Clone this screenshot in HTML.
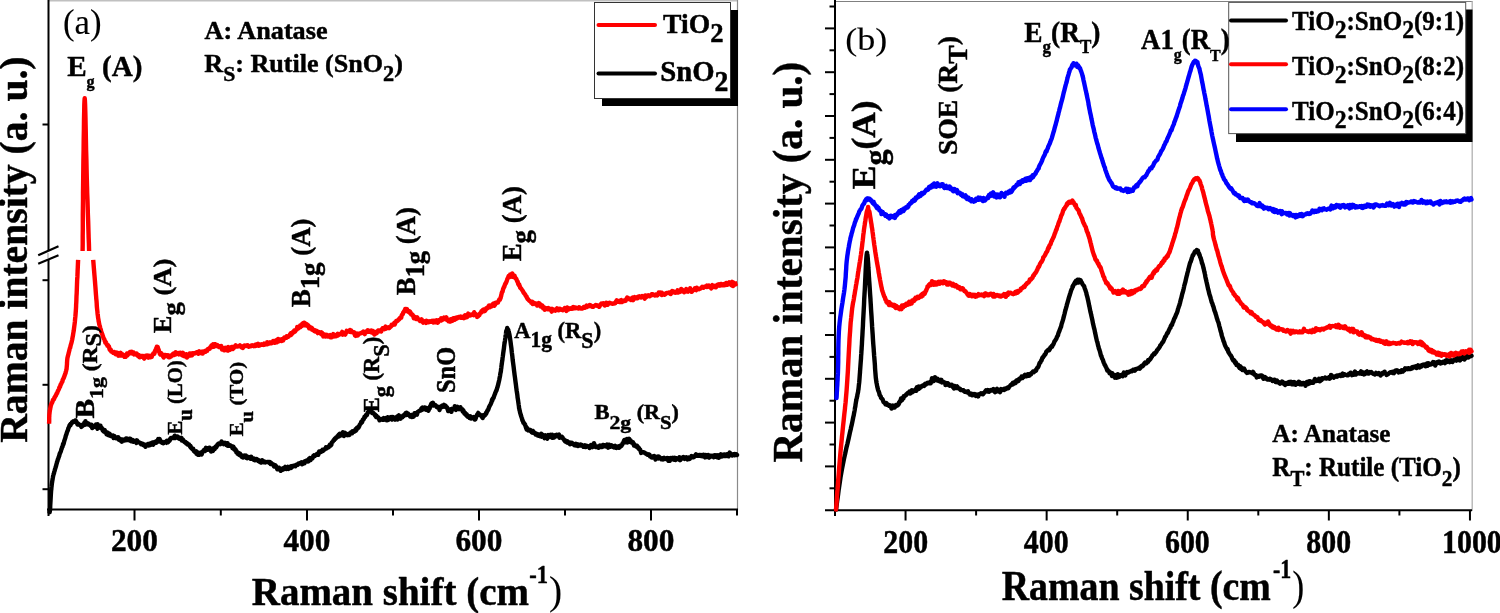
<!DOCTYPE html>
<html><head><meta charset="utf-8"><style>
html,body{margin:0;padding:0;background:#fff;width:1500px;height:613px;overflow:hidden}
svg{display:block;will-change:transform}
text{font-family:"Liberation Serif",serif;fill:#000;stroke:#000;stroke-width:0.45px;stroke-linejoin:round}
text[font-weight="normal"]{stroke-width:0.1px}
</style></head><body>
<svg width="1500" height="613" viewBox="0 0 1500 613">
<rect width="1500" height="613" fill="#fff"/>
<line x1="48" y1="0.75" x2="738" y2="0.75" stroke="#c0c0c0" stroke-width="1.5" stroke-linecap="butt"/>
<line x1="737.5" y1="0" x2="737.5" y2="510" stroke="#8a8a8a" stroke-width="1.2" stroke-linecap="butt"/>
<line x1="48.5" y1="0" x2="48.5" y2="516" stroke="#000" stroke-width="2" stroke-linecap="butt"/>
<line x1="47" y1="509.6" x2="738" y2="509.6" stroke="#000" stroke-width="2" stroke-linecap="butt"/>
<line x1="42.5" y1="124.5" x2="48" y2="124.5" stroke="#000" stroke-width="2" stroke-linecap="butt"/>
<line x1="42.5" y1="280.2" x2="48" y2="280.2" stroke="#000" stroke-width="2" stroke-linecap="butt"/>
<line x1="42.5" y1="384.8" x2="48" y2="384.8" stroke="#000" stroke-width="2" stroke-linecap="butt"/>
<line x1="42.5" y1="489.2" x2="48" y2="489.2" stroke="#000" stroke-width="2" stroke-linecap="butt"/>
<polygon points="38,255.3 58.5,246.3 58.5,255.3 38,263.7" fill="#fff"/>
<line x1="48" y1="253" x2="48" y2="258" stroke="#999" stroke-width="1" stroke-linecap="butt"/>
<line x1="38.2" y1="255.3" x2="58.5" y2="246.3" stroke="#000" stroke-width="2.2" stroke-linecap="butt"/>
<line x1="38.2" y1="263.7" x2="58.5" y2="255.3" stroke="#000" stroke-width="2.2" stroke-linecap="butt"/>
<line x1="134.5" y1="509.6" x2="134.5" y2="520.5" stroke="#000" stroke-width="2" stroke-linecap="butt"/>
<line x1="220.8" y1="509.6" x2="220.8" y2="515.5" stroke="#000" stroke-width="2" stroke-linecap="butt"/>
<line x1="307" y1="509.6" x2="307" y2="520.5" stroke="#000" stroke-width="2" stroke-linecap="butt"/>
<line x1="393" y1="509.6" x2="393" y2="515.5" stroke="#000" stroke-width="2" stroke-linecap="butt"/>
<line x1="479" y1="509.6" x2="479" y2="520.5" stroke="#000" stroke-width="2" stroke-linecap="butt"/>
<line x1="565" y1="509.6" x2="565" y2="515.5" stroke="#000" stroke-width="2" stroke-linecap="butt"/>
<line x1="651" y1="509.6" x2="651" y2="520.5" stroke="#000" stroke-width="2" stroke-linecap="butt"/>
<line x1="737" y1="509.6" x2="737" y2="515.5" stroke="#000" stroke-width="2" stroke-linecap="butt"/>
<line x1="835" y1="1.5" x2="1472.5" y2="1.5" stroke="#808080" stroke-width="1.2" stroke-linecap="butt"/>
<line x1="1472.2" y1="1" x2="1472.2" y2="511" stroke="#b0b0b0" stroke-width="1.3" stroke-linecap="butt"/>
<line x1="835" y1="0" x2="835" y2="516" stroke="#000" stroke-width="2" stroke-linecap="butt"/>
<line x1="825" y1="510.2" x2="1472" y2="510.2" stroke="#000" stroke-width="2" stroke-linecap="butt"/>
<line x1="829.5" y1="488.3" x2="835" y2="488.3" stroke="#000" stroke-width="2" stroke-linecap="butt"/>
<line x1="825" y1="466.40000000000003" x2="835" y2="466.40000000000003" stroke="#000" stroke-width="2" stroke-linecap="butt"/>
<line x1="829.5" y1="444.50000000000006" x2="835" y2="444.50000000000006" stroke="#000" stroke-width="2" stroke-linecap="butt"/>
<line x1="825" y1="422.6000000000001" x2="835" y2="422.6000000000001" stroke="#000" stroke-width="2" stroke-linecap="butt"/>
<line x1="829.5" y1="400.7000000000001" x2="835" y2="400.7000000000001" stroke="#000" stroke-width="2" stroke-linecap="butt"/>
<line x1="825" y1="378.8000000000001" x2="835" y2="378.8000000000001" stroke="#000" stroke-width="2" stroke-linecap="butt"/>
<line x1="829.5" y1="356.90000000000015" x2="835" y2="356.90000000000015" stroke="#000" stroke-width="2" stroke-linecap="butt"/>
<line x1="825" y1="335.00000000000017" x2="835" y2="335.00000000000017" stroke="#000" stroke-width="2" stroke-linecap="butt"/>
<line x1="829.5" y1="313.1000000000002" x2="835" y2="313.1000000000002" stroke="#000" stroke-width="2" stroke-linecap="butt"/>
<line x1="825" y1="291.2000000000002" x2="835" y2="291.2000000000002" stroke="#000" stroke-width="2" stroke-linecap="butt"/>
<line x1="829.5" y1="269.30000000000024" x2="835" y2="269.30000000000024" stroke="#000" stroke-width="2" stroke-linecap="butt"/>
<line x1="825" y1="247.40000000000023" x2="835" y2="247.40000000000023" stroke="#000" stroke-width="2" stroke-linecap="butt"/>
<line x1="829.5" y1="225.50000000000023" x2="835" y2="225.50000000000023" stroke="#000" stroke-width="2" stroke-linecap="butt"/>
<line x1="825" y1="203.60000000000022" x2="835" y2="203.60000000000022" stroke="#000" stroke-width="2" stroke-linecap="butt"/>
<line x1="829.5" y1="181.70000000000022" x2="835" y2="181.70000000000022" stroke="#000" stroke-width="2" stroke-linecap="butt"/>
<line x1="825" y1="159.8000000000002" x2="835" y2="159.8000000000002" stroke="#000" stroke-width="2" stroke-linecap="butt"/>
<line x1="829.5" y1="137.9000000000002" x2="835" y2="137.9000000000002" stroke="#000" stroke-width="2" stroke-linecap="butt"/>
<line x1="825" y1="116.0000000000002" x2="835" y2="116.0000000000002" stroke="#000" stroke-width="2" stroke-linecap="butt"/>
<line x1="829.5" y1="94.1000000000002" x2="835" y2="94.1000000000002" stroke="#000" stroke-width="2" stroke-linecap="butt"/>
<line x1="825" y1="72.20000000000019" x2="835" y2="72.20000000000019" stroke="#000" stroke-width="2" stroke-linecap="butt"/>
<line x1="829.5" y1="50.30000000000019" x2="835" y2="50.30000000000019" stroke="#000" stroke-width="2" stroke-linecap="butt"/>
<line x1="825" y1="28.40000000000019" x2="835" y2="28.40000000000019" stroke="#000" stroke-width="2" stroke-linecap="butt"/>
<line x1="829.5" y1="6.500000000000192" x2="835" y2="6.500000000000192" stroke="#000" stroke-width="2" stroke-linecap="butt"/>
<line x1="905.55" y1="510.2" x2="905.55" y2="520.5" stroke="#000" stroke-width="2" stroke-linecap="butt"/>
<line x1="976.1" y1="510.2" x2="976.1" y2="515.5" stroke="#000" stroke-width="2" stroke-linecap="butt"/>
<line x1="1046.65" y1="510.2" x2="1046.65" y2="520.5" stroke="#000" stroke-width="2" stroke-linecap="butt"/>
<line x1="1117.2" y1="510.2" x2="1117.2" y2="515.5" stroke="#000" stroke-width="2" stroke-linecap="butt"/>
<line x1="1187.75" y1="510.2" x2="1187.75" y2="520.5" stroke="#000" stroke-width="2" stroke-linecap="butt"/>
<line x1="1258.3" y1="510.2" x2="1258.3" y2="515.5" stroke="#000" stroke-width="2" stroke-linecap="butt"/>
<line x1="1328.85" y1="510.2" x2="1328.85" y2="520.5" stroke="#000" stroke-width="2" stroke-linecap="butt"/>
<line x1="1399.4" y1="510.2" x2="1399.4" y2="515.5" stroke="#000" stroke-width="2" stroke-linecap="butt"/>
<line x1="1469.9499999999998" y1="510.2" x2="1469.9499999999998" y2="520.5" stroke="#000" stroke-width="2" stroke-linecap="butt"/>
<polyline points="49.1,423.7 49.1,422.7 49.2,421.6 49.2,420.5 49.2,419.5 49.2,418.5 49.2,417.4 49.3,416.4 49.3,415.4 49.4,414.3 49.5,413.4 49.6,412.5 49.7,411.5 49.9,410.5 50.0,409.7 50.2,408.9 50.4,407.6 50.6,406.9 50.6,406.5 50.8,405.8 51.1,404.7 51.4,404.2 51.7,403.0 52.1,402.7 52.1,402.6 52.5,401.6 53.0,399.7 53.5,399.7 53.6,399.6 54.0,399.1 54.5,397.4 55.0,397.0 55.1,396.5 55.5,395.8 56.0,395.5 56.5,393.7 56.6,393.8 57.1,393.2 57.7,391.4 58.1,390.6 58.3,390.4 58.9,389.1 59.4,387.3 59.6,387.5 60.0,387.0 60.6,384.6 61.1,384.3 61.2,383.9 61.7,382.4 62.2,382.0 62.6,380.7 62.7,379.7 63.3,378.9 63.8,377.8 64.1,376.7 64.3,376.6 64.7,375.1 65.2,374.0 65.6,373.0 65.6,372.4 66.0,371.3 66.3,369.9 66.6,368.8 66.7,367.4 66.8,366.3 66.9,365.1 67.0,364.0 67.0,362.7 67.1,361.7 67.1,361.3 67.2,360.1 67.4,358.3 67.7,356.9 68.1,355.3 68.5,353.9 68.6,353.3 69.0,351.7 69.5,349.7 70.0,347.8 70.1,348.0 70.6,345.7 71.2,343.7 71.6,342.1 71.7,341.7 72.2,339.5 72.6,337.2 73.0,335.2 73.1,334.5 73.3,333.2 73.7,330.9 74.0,328.5 74.3,326.3 74.6,323.9 74.6,324.0 74.9,321.4 75.1,319.0 75.4,316.3 75.6,313.8 75.8,311.0 76.0,308.1 76.1,306.1 76.1,305.2 76.3,302.2 76.4,299.2 76.5,296.1 76.7,293.0 76.8,290.1 76.9,287.2 77.0,284.4 77.1,281.7 77.2,279.2 77.4,276.7 77.5,274.2 77.6,271.8 77.6,271.1 77.7,269.4 77.8,267.1 77.9,264.7 78.0,262.4 78.1,259.9" fill="none" stroke="#ff0000" stroke-width="4.4" stroke-linejoin="round" stroke-linecap="butt"/>
<polyline points="82.6,251.0 82.7,243.7 82.7,236.4 82.8,229.2 82.8,222.1 82.8,214.9 82.9,207.7 83.0,200.3 83.0,193.0 83.1,185.5 83.2,178.0 83.3,169.6 83.4,160.0 83.6,149.7 83.7,139.2 83.9,128.9 84.0,119.4 84.1,115.0 84.2,111.1 84.3,104.6 84.5,100.4 84.7,98.3 84.9,100.3 85.1,104.6 85.3,111.1 85.5,119.3 85.6,124.4 85.7,128.9 85.9,139.2 86.1,149.7 86.4,160.0 86.6,169.6 86.8,178.0 87.0,185.6 87.1,188.1 87.2,193.0 87.5,200.3 87.7,207.6 87.9,214.9 88.2,222.1 88.4,229.3 88.6,235.4 88.6,236.5 88.9,243.7 89.1,251.0" fill="none" stroke="#ff0000" stroke-width="4.4" stroke-linejoin="round" stroke-linecap="butt"/>
<polyline points="93.2,259.9 93.4,262.2 93.6,264.8 93.8,267.2 94.0,269.7 94.2,272.0 94.4,274.6 94.6,276.9 94.7,278.2 94.8,279.4 95.0,281.8 95.2,284.5 95.4,286.9 95.6,289.7 95.8,292.5 96.0,295.2 96.2,297.4 96.2,298.1 96.5,300.7 96.7,303.3 96.8,305.8 97.0,308.1 97.2,310.0 97.4,311.6 97.5,312.9 97.6,314.0 97.7,314.8 97.8,315.3 97.9,316.1 98.0,317.0 98.1,317.8 98.2,318.5 98.4,319.3 98.5,319.9 98.6,321.1 98.8,321.5 98.9,322.6 99.1,323.2 99.2,323.9 99.2,324.2 99.4,324.8 99.5,325.0 99.7,325.6 99.9,326.9 100.1,327.3 100.3,328.3 100.6,329.4 100.7,329.2 100.8,329.5 101.1,331.1 101.4,331.9 101.7,332.7 102.0,333.7 102.2,334.0 102.3,334.0 102.5,335.2 102.8,335.7 103.0,336.2 103.3,337.5 103.5,337.9 103.7,338.5 103.7,338.1 103.9,338.8 104.2,339.1 104.4,339.6 104.6,340.5 104.8,340.6 105.0,341.4 105.2,341.8 105.2,342.6 105.4,341.4 105.5,342.7 105.7,342.5 105.9,342.8 106.0,342.3 106.2,343.1 106.5,344.1 106.7,344.0 106.7,344.1 107.0,344.4 107.3,345.6 107.7,345.6 108.1,345.4 108.2,346.3 108.5,346.2 108.9,346.3 109.3,348.2 109.7,349.7 109.8,349.2 110.3,349.2 110.8,349.9 111.2,351.6 111.3,351.1 111.8,351.5 112.4,351.8 112.7,352.0 113.0,352.8 113.7,353.0 114.2,352.9 114.3,351.9 115.0,353.5 115.6,352.7 115.7,354.3 116.3,352.5 117.0,353.7 117.2,353.8 117.7,352.9 118.4,355.7 118.7,355.6 119.2,354.1 119.9,355.4 120.2,355.2 120.7,352.8 121.5,355.5 121.7,355.3 122.3,355.5 123.1,354.7 123.2,355.4 123.8,355.6 124.5,356.8 124.7,356.0 125.2,355.7 125.8,356.8 126.2,354.9 126.4,354.9 127.0,353.5 127.5,355.4 127.7,354.8 128.1,354.4 128.6,353.8 129.1,352.9 129.2,352.9 129.5,352.3 130.0,352.0 130.5,352.0 130.7,353.3 131.0,352.5 131.4,352.0 131.7,351.7 132.1,351.9 132.2,353.6 132.4,353.0 132.8,352.9 133.2,352.9 133.7,352.6 133.7,353.4 134.2,354.4 134.8,353.7 135.2,354.0 135.5,354.1 136.2,354.7 136.7,353.5 137.0,354.7 137.8,354.6 138.2,356.2 138.7,355.0 139.6,356.5 139.7,357.3 140.5,356.0 141.2,355.9 141.5,356.7 142.4,356.7 142.7,355.9 143.3,357.2 144.2,358.6 144.2,356.6 145.3,356.6 145.7,355.8 146.3,357.0 147.2,355.5 147.4,355.6 148.4,357.6 148.7,355.6 149.5,357.1 150.2,357.3 150.5,356.1 151.4,356.0 151.7,357.0 152.2,355.0 153.0,354.3 153.2,353.6 153.6,354.1 154.2,353.9 154.7,352.6 154.7,351.9 155.1,350.9 155.5,350.0 155.9,349.2 156.2,348.1 156.2,348.2 156.5,347.5 156.8,346.7 157.2,346.7 157.5,347.0 157.7,347.0 157.8,347.5 158.0,348.4 158.3,348.9 158.5,349.7 158.7,350.3 159.0,351.8 159.2,351.5 159.4,352.1 159.8,353.8 160.4,354.5 160.7,354.1 161.1,353.1 161.9,354.6 162.2,354.4 162.7,355.8 163.7,357.5 163.7,355.7 164.7,355.1 165.2,354.9 165.7,355.9 166.7,356.0 166.7,355.1 167.7,356.4 168.2,355.2 168.6,357.3 169.5,357.3 169.7,357.2 170.3,355.8 171.1,356.4 171.2,355.8 171.8,355.3 172.6,355.0 172.7,354.2 173.3,353.7 174.0,355.1 174.2,354.2 174.8,354.3 175.6,354.6 175.7,352.2 176.4,352.8 177.2,353.6 178.1,353.8 178.7,353.2 179.0,354.4 180.0,353.9 180.2,352.7 181.0,353.2 181.7,354.9 182.0,354.7 183.0,352.9 183.2,355.8 184.0,355.4 184.7,356.2 185.0,354.7 186.0,355.0 186.2,354.2 186.9,357.6 187.7,355.1 187.8,356.7 188.7,354.6 189.2,355.2 189.6,353.5 190.4,354.5 190.7,355.6 191.2,353.5 192.1,355.3 192.2,354.6 192.9,353.2 193.7,353.4 193.8,353.5 194.7,353.6 195.2,353.0 195.6,352.7 196.5,353.0 196.7,352.3 197.5,351.9 198.2,352.9 198.5,353.7 199.5,351.4 199.7,352.8 200.4,352.1 201.2,351.7 201.4,353.2 202.4,351.8 202.7,353.5 203.4,351.4 204.2,352.1 204.4,351.6 205.3,350.8 205.7,351.7 206.2,350.8 207.1,350.8 207.2,350.2 208.0,348.9 208.7,349.0 208.9,349.0 209.7,348.9 210.2,347.2 210.6,347.5 211.4,345.6 211.7,347.2 212.3,345.5 213.1,344.3 213.2,345.8 214.0,346.6 214.7,344.2 214.9,344.5 215.8,344.9 216.2,344.7 216.7,346.1 217.7,345.4 217.7,345.5 218.6,346.9 219.2,346.0 219.5,347.1 220.4,346.4 220.7,346.3 221.2,346.0 222.0,349.4 222.2,347.7 222.7,348.3 223.3,348.3 223.7,348.6 223.8,348.6 224.3,350.3 224.7,348.1 225.0,347.9 225.2,348.4 225.4,348.2 225.8,350.1 226.3,350.2 226.7,348.7 226.8,348.3 227.5,349.2 228.2,350.6 228.2,346.9 229.1,349.6 229.7,348.0 229.9,349.8 230.8,347.6 231.2,348.1 231.7,346.9 232.7,347.0 232.7,349.0 233.8,348.1 234.2,347.0 234.9,346.3 235.7,345.2 236.0,346.5 237.2,346.6 238.5,346.4 238.7,346.4 239.9,345.3 240.2,346.3 241.3,346.3 241.7,347.4 242.9,347.9 243.2,346.1 244.4,345.5 244.7,346.2 246.0,345.7 246.2,345.5 247.6,346.2 247.7,345.3 249.0,346.7 249.2,346.1 250.4,346.4 250.7,346.0 251.7,345.4 252.2,345.2 252.9,345.8 253.7,345.5 253.9,346.2 255.0,345.9 255.2,344.7 255.9,345.9 256.7,344.6 256.9,345.2 257.8,345.4 258.2,343.8 258.6,345.7 259.5,345.6 259.7,345.3 260.5,345.0 261.2,344.9 261.4,344.3 262.4,344.8 262.7,344.5 263.3,344.9 264.2,343.5 264.3,344.8 265.2,344.4 265.7,344.1 266.2,343.7 267.2,344.2 267.2,342.3 268.1,343.9 268.7,343.5 269.1,343.5 270.0,343.3 270.2,342.3 271.0,342.5 271.7,343.1 272.0,342.8 273.0,342.4 273.2,340.9 274.0,342.5 274.7,342.9 275.1,342.7 276.1,341.8 276.2,340.2 277.1,342.2 277.7,341.1 278.1,338.9 279.0,341.2 279.2,339.5 279.9,339.5 280.7,339.8 281.4,341.0 282.1,339.4 282.2,339.8 282.7,340.7 283.3,340.2 283.7,338.7 283.8,338.5 284.4,337.4 284.9,337.4 285.2,338.0 285.4,337.9 285.9,337.3 286.5,337.7 286.7,336.2 287.1,336.5 287.7,336.8 288.2,336.5 288.3,336.8 288.9,336.0 289.5,335.1 289.7,335.5 290.1,334.3 290.7,333.4 291.2,334.9 291.3,334.3 291.9,334.2 292.5,332.3 292.7,333.1 293.1,332.6 293.7,331.9 294.2,330.5 294.3,331.6 295.0,331.7 295.6,330.7 295.7,329.9 296.2,329.8 296.8,329.6 297.2,327.0 297.3,328.4 297.8,328.3 298.3,327.9 298.7,328.2 298.7,327.8 299.1,327.0 299.5,326.6 299.8,326.7 300.1,325.5 300.2,325.8 300.4,326.4 300.7,327.0 300.9,325.2 301.2,325.1 301.5,325.2 301.7,326.0 301.8,324.8 302.1,325.9 302.3,323.8 302.6,324.3 302.9,324.2 303.1,325.0 303.2,325.2 303.4,322.9 303.7,323.4 303.9,324.5 304.2,323.6 304.5,322.8 304.7,325.2 304.8,324.7 305.0,324.7 305.3,323.9 305.6,325.3 305.9,324.3 306.2,325.5 306.2,323.9 306.5,324.0 306.7,325.0 307.0,324.4 307.3,325.7 307.5,325.5 307.7,324.8 307.7,325.5 308.0,325.4 308.2,326.5 308.4,325.6 308.7,326.0 308.9,327.3 309.2,328.3 309.2,328.1 309.5,327.0 309.8,327.4 310.1,328.5 310.3,327.7 310.6,327.4 310.7,328.2 310.9,328.7 311.3,328.1 311.7,327.8 312.1,328.2 312.2,329.9 312.7,329.1 313.3,329.9 313.7,330.4 314.0,330.9 314.9,330.5 315.2,331.4 315.8,330.5 316.7,331.4 316.8,330.9 317.8,333.1 318.2,332.3 318.9,332.0 319.7,332.7 320.0,332.9 321.1,334.1 321.2,332.2 322.2,333.0 322.7,333.7 323.3,336.4 324.2,335.3 324.4,334.4 325.5,335.4 325.7,336.6 326.6,334.8 327.2,334.9 327.7,336.4 328.7,335.9 328.8,336.1 330.0,335.2 330.2,337.4 331.2,337.4 331.7,336.4 332.4,336.5 333.2,334.1 333.7,336.5 334.7,335.6 335.0,336.2 336.2,336.2 336.4,335.3 337.7,333.8 337.9,335.6 339.2,334.2 339.5,334.5 340.7,333.9 341.2,334.0 342.2,331.9 342.8,334.7 343.7,333.6 344.4,334.1 345.2,334.6 346.0,332.6 346.7,330.9 347.5,331.4 348.2,331.0 348.8,331.4 349.7,331.8 350.0,329.9 351.0,332.0 351.2,330.4 351.8,332.1 352.4,332.1 352.7,332.1 353.0,332.5 353.5,332.5 353.9,332.9 354.2,332.2 354.5,333.7 355.1,335.5 355.7,335.9 355.8,335.3 356.7,334.8 357.2,333.5 357.8,335.4 358.7,333.8 359.1,333.7 360.2,333.2 360.5,333.5 361.7,332.7 361.9,332.9 363.2,331.7 363.5,332.2 364.7,334.1 365.0,332.0 366.2,331.4 366.4,332.0 367.7,331.8 367.8,330.2 369.0,330.7 369.2,331.7 370.0,331.0 370.7,330.9 370.8,332.2 371.5,330.5 372.0,331.4 372.2,331.1 372.4,332.7 372.8,330.9 373.2,332.1 373.5,332.5 373.7,333.5 373.9,333.6 374.4,334.5 375.0,331.9 375.2,333.9 375.7,332.9 376.4,332.3 376.7,333.2 377.2,331.8 378.1,330.5 378.2,331.7 378.9,330.4 379.7,330.7 379.8,331.4 380.7,330.8 381.2,331.5 381.6,329.9 382.5,328.4 382.7,328.9 383.3,328.4 384.1,327.8 384.2,329.2 385.0,328.0 385.7,326.6 385.8,328.9 386.7,327.9 387.2,328.1 387.5,327.8 388.3,328.0 388.7,327.3 389.2,328.1 390.0,327.1 390.2,327.0 390.9,326.6 391.7,324.7 392.5,325.1 393.2,324.5 393.4,324.7 394.3,322.9 394.7,324.6 395.2,323.2 396.1,321.5 396.2,321.1 396.9,321.3 397.7,320.7 397.8,320.2 398.6,319.9 399.2,318.8 399.3,319.4 400.0,317.9 400.6,317.5 400.7,317.9 401.2,317.9 401.7,315.3 402.2,314.7 402.2,314.5 402.7,314.3 403.2,312.6 403.6,312.1 403.7,312.2 404.1,311.2 404.5,310.6 405.0,310.4 405.2,309.0 405.5,309.4 406.0,310.1 406.5,310.6 406.7,310.4 407.0,309.1 407.4,310.4 407.9,311.7 408.2,311.7 408.4,311.3 408.9,311.1 409.5,312.6 409.7,311.9 410.0,311.6 410.5,312.4 411.1,314.3 411.2,313.7 411.6,314.7 412.1,314.3 412.7,315.8 412.7,314.9 413.2,315.8 413.8,318.2 414.2,317.4 414.5,316.8 415.2,317.7 415.7,318.3 416.0,319.1 416.9,318.2 417.2,317.3 417.8,318.8 418.7,319.4 418.8,319.5 419.9,320.9 420.2,320.2 421.0,320.9 421.7,319.4 422.1,321.2 423.2,322.6 424.3,321.7 424.7,321.3 425.4,321.4 426.2,322.9 426.4,320.6 427.4,321.4 427.7,322.0 428.4,322.3 429.2,321.3 429.4,322.0 430.4,321.5 430.7,321.9 431.4,321.7 432.2,320.8 432.3,321.8 433.3,322.5 433.7,320.8 434.2,321.4 435.1,322.1 435.2,320.6 436.0,321.6 436.7,320.3 436.9,322.2 437.7,322.8 438.2,322.3 438.6,320.3 439.4,320.7 439.7,320.0 440.2,319.7 441.1,320.5 441.2,318.1 441.8,319.7 442.6,318.5 442.7,319.7 443.3,318.5 444.0,317.6 444.2,318.5 444.7,318.9 445.3,318.4 445.7,319.0 445.8,318.2 446.4,317.4 446.9,320.0 447.2,320.1 447.4,319.8 447.9,320.1 448.5,321.2 448.7,320.0 449.0,319.9 449.6,320.4 450.2,321.6 450.8,319.2 451.4,321.2 451.7,319.6 452.0,319.1 452.6,320.7 453.2,319.3 453.3,318.3 453.9,318.8 454.6,319.5 454.7,319.7 455.3,318.1 456.0,318.5 456.2,318.8 456.7,317.4 457.5,318.1 457.7,317.7 458.2,317.1 459.0,316.9 459.2,317.4 459.8,317.2 460.6,316.5 460.7,316.6 461.4,317.8 462.2,316.8 462.2,317.4 463.1,317.5 463.7,316.8 464.0,318.2 465.0,315.3 465.2,316.6 466.0,315.5 466.7,317.2 467.2,317.0 468.2,313.5 468.3,314.4 469.5,315.5 469.7,315.6 470.6,315.4 471.2,314.6 471.7,314.9 472.7,314.9 472.7,314.3 473.6,315.2 474.2,312.2 474.4,314.8 475.0,313.4 475.5,315.2 475.7,314.4 475.8,314.1 476.1,315.2 476.4,314.8 476.6,315.1 476.7,314.9 477.0,316.0 477.2,316.5 477.2,317.0 477.6,315.9 478.0,316.5 478.4,315.4 478.7,315.1 478.9,315.3 479.4,315.0 479.9,313.6 480.2,313.2 480.3,313.1 480.9,312.6 481.4,311.4 481.7,312.3 481.9,311.2 482.4,311.3 482.9,310.0 483.2,310.7 483.5,310.5 484.0,309.6 484.5,311.2 484.7,309.8 485.1,310.7 485.7,309.8 486.2,308.2 486.2,308.4 486.8,308.8 487.4,308.2 487.7,308.0 488.0,307.6 488.6,306.0 489.2,307.0 489.2,305.4 489.9,307.2 490.5,306.0 490.7,306.0 491.2,306.2 491.9,306.3 492.2,304.7 492.5,304.3 493.2,304.6 493.7,303.5 493.8,304.3 494.4,305.8 495.0,303.4 495.2,304.5 495.6,302.7 496.2,303.4 496.7,302.6 496.8,302.6 497.4,302.5 498.0,302.6 498.2,301.5 498.6,301.0 499.1,299.8 499.6,300.0 499.7,299.3 500.0,299.4 500.4,298.3 500.6,298.2 500.9,296.5 501.1,296.2 501.2,295.8 501.2,295.4 501.4,294.6 501.6,293.9 501.8,292.7 502.1,292.1 502.5,291.8 502.7,290.9 503.0,289.4 503.5,288.1 504.1,286.7 504.2,287.1 504.8,285.0 505.5,283.4 505.7,283.5 506.2,282.4 506.9,280.4 507.2,279.4 507.5,278.6 508.1,277.7 508.6,276.0 508.7,277.3 509.0,276.1 509.5,276.2 509.8,276.9 510.1,276.4 510.2,274.4 510.5,276.0 510.8,276.3 511.1,274.6 511.4,274.5 511.7,275.3 511.7,274.0 512.0,276.8 512.3,273.4 512.7,274.6 513.0,275.4 513.2,275.6 513.3,275.9 513.6,276.2 513.9,276.0 514.3,277.2 514.6,275.6 514.7,277.0 515.0,277.0 515.5,278.1 516.0,278.9 516.2,278.7 516.5,279.4 517.1,281.0 517.6,282.0 517.7,281.7 518.2,283.9 518.8,285.2 519.2,284.4 519.5,285.7 520.2,287.9 520.7,288.1 520.9,288.2 521.6,289.2 522.2,290.0 522.4,290.4 523.1,291.5 523.7,293.0 524.0,292.9 524.8,294.2 525.2,294.5 525.7,295.8 526.6,296.6 526.7,297.2 527.5,298.9 528.2,299.4 528.4,299.8 529.3,300.7 529.7,300.9 530.3,301.3 531.2,301.9 531.3,302.7 532.3,301.9 532.7,304.1 533.4,303.3 534.2,303.0 534.4,303.3 535.5,303.5 535.7,304.3 536.6,303.8 537.2,305.6 537.7,304.0 538.7,303.0 538.7,304.4 539.7,303.6 540.2,305.5 540.7,306.6 541.6,306.6 541.7,305.1 542.5,305.9 543.2,308.3 543.2,307.2 544.0,307.3 544.7,308.5 544.8,309.7 545.6,309.1 546.2,308.4 546.4,308.7 547.3,309.2 547.7,308.3 548.2,308.1 549.2,309.2 549.3,308.4 550.5,309.3 550.7,309.5 551.7,311.6 552.2,308.8 553.0,309.5 553.7,309.6 554.3,310.1 555.2,310.7 555.7,309.4 556.7,309.1 557.1,308.4 558.2,309.0 558.6,310.3 559.7,309.9 560.1,308.9 561.2,309.5 561.6,309.8 562.7,310.2 563.2,309.2 564.2,309.4 564.8,308.0 565.7,308.5 566.4,310.9 567.2,307.4 568.0,308.9 568.7,309.4 569.7,308.7 570.2,308.2 571.4,308.7 571.7,308.7 573.2,308.5 573.2,306.9 574.7,308.2 574.9,307.5 576.2,307.6 576.8,308.2 577.7,308.4 578.6,308.5 579.2,307.2 580.5,308.3 580.7,308.5 582.2,308.3 582.5,308.5 583.7,307.0 584.5,306.9 585.2,307.7 586.6,305.6 586.7,307.0 588.2,306.1 588.7,306.2 589.7,304.9 590.9,305.5 591.2,306.2 592.7,306.9 593.1,306.9 594.2,305.8 595.2,305.6 595.7,305.0 597.2,305.9 597.3,305.3 598.7,305.8 599.3,306.8 600.2,305.0 601.3,303.6 601.7,304.1 603.2,303.3 603.2,303.5 604.7,305.5 605.0,304.5 606.2,302.7 606.7,304.5 607.7,304.8 608.5,303.2 609.2,302.8 610.2,302.9 610.7,303.3 611.8,303.4 612.2,303.8 613.5,303.5 613.7,303.5 615.2,303.3 615.2,302.7 616.7,300.4 616.9,301.6 618.2,301.8 618.6,301.1 619.7,302.0 620.3,300.7 621.2,300.1 622.1,302.0 622.7,301.2 623.8,300.5 624.2,301.1 625.6,300.9 625.7,300.3 627.2,297.5 627.3,299.0 628.7,299.0 629.0,298.4 630.2,299.2 630.8,300.0 631.7,298.3 632.5,297.6 633.2,300.2 634.3,297.8 634.7,297.1 636.0,298.1 636.2,298.2 637.7,296.9 637.7,298.2 639.2,296.8 639.5,296.4 640.7,297.1 641.2,297.5 642.2,296.1 642.9,296.7 643.7,296.2 644.7,298.6 645.2,295.4 646.4,297.0 646.7,295.6 648.1,295.3 648.2,296.0 649.7,295.9 649.8,296.2 651.2,295.1 651.6,294.2 652.7,294.1 653.3,295.0 654.2,294.9 655.0,295.5 655.7,294.6 656.8,295.0 657.2,295.4 658.5,294.0 658.7,292.5 660.2,292.6 660.2,292.4 661.7,295.0 661.9,292.8 663.2,294.5 663.7,293.9 664.7,294.8 665.4,294.1 666.2,293.1 667.1,292.9 667.7,293.1 668.9,293.1 669.2,292.4 670.6,292.7 670.7,294.1 672.2,291.0 672.3,292.7 673.7,291.5 674.1,292.4 675.2,292.8 675.8,291.9 676.7,292.5 677.6,290.3 678.2,292.6 679.3,290.9 679.7,291.9 681.0,291.3 681.2,288.9 682.7,290.2 682.8,291.1 684.2,292.1 684.5,290.9 685.7,290.7 686.3,289.1 687.2,291.5 688.0,291.7 688.7,290.0 689.7,289.6 690.2,288.3 691.5,290.4 691.7,291.9 693.2,290.0 693.2,290.4 694.7,289.6 694.9,288.2 696.2,290.1 696.7,287.7 697.7,288.5 698.4,288.8 699.2,289.2 700.1,288.7 700.7,288.5 701.8,287.3 702.2,286.8 703.6,287.8 703.7,287.1 705.2,286.4 705.3,286.4 706.7,286.9 707.0,285.6 708.2,285.9 708.8,285.5 709.7,287.0 710.6,287.1 711.2,288.4 712.3,285.1 712.7,285.8 714.1,287.0 714.2,285.9 715.7,285.6 715.9,287.4 717.2,285.4 717.6,284.6 718.7,284.3 719.3,285.7 720.2,285.5 721.0,283.9 721.7,284.1 722.6,285.4 723.2,285.3 724.2,284.1 724.7,285.2 725.7,285.0 726.2,282.9 727.2,284.0 727.7,284.6 728.7,283.6 729.2,282.2 730.2,283.7 730.7,284.6 731.6,285.3 732.2,281.8 733.0,286.0 733.7,282.6 734.5,284.4 735.2,284.6 735.9,284.2 736.7,283.4 737.4,283.2" fill="none" stroke="#ff0000" stroke-width="4.4" stroke-linejoin="round" stroke-linecap="butt"/>
<polyline points="49.5,512.0 49.6,511.6 49.6,510.8 49.7,512.3 49.7,511.4 49.8,511.5 49.8,510.7 49.9,510.7 50.0,510.2 50.0,509.5 50.1,508.5 50.2,507.3 50.2,506.0 50.3,504.4 50.4,502.7 50.5,501.0 50.6,499.1 50.7,497.3 50.8,495.5 50.9,493.9 51.0,492.3 51.1,490.7 51.3,489.4 51.4,487.7 51.6,486.3 51.7,485.1 51.9,483.5 52.1,482.2 52.3,480.8 52.5,479.7 52.5,479.9 52.7,478.4 52.9,477.4 53.1,476.1 53.4,475.0 53.6,474.0 53.8,473.7 54.0,473.3 54.1,472.5 54.4,471.3 54.7,470.6 55.0,469.3 55.3,468.4 55.5,467.6 55.7,467.0 56.1,465.8 56.5,464.1 56.9,462.8 57.0,462.1 57.4,461.3 57.8,459.6 58.3,458.6 58.5,457.6 58.7,457.2 59.2,455.9 59.6,454.1 60.0,453.1 60.0,453.0 60.4,452.3 60.8,451.4 61.2,450.0 61.5,448.9 61.6,449.0 62.1,447.0 62.5,446.7 62.9,444.9 63.0,444.0 63.3,444.6 63.8,443.0 64.3,440.8 64.5,440.4 64.8,439.4 65.3,437.9 65.8,435.7 66.0,435.2 66.3,434.6 66.8,432.8 67.3,431.5 67.5,430.7 67.9,430.4 68.4,428.0 69.0,427.2 69.6,425.2 70.1,424.5 70.5,425.3 70.7,423.8 71.3,423.8 72.0,422.8 72.0,422.1 72.6,422.0 73.2,421.4 73.5,421.2 73.8,422.0 74.4,421.8 75.0,420.6 75.6,420.4 76.2,421.8 76.5,421.7 76.9,422.8 77.5,424.4 78.0,423.9 78.1,423.6 78.7,424.2 79.3,424.5 79.5,424.7 79.9,425.0 80.5,425.8 81.0,425.9 81.5,426.9 81.9,425.7 82.4,425.4 82.5,424.7 82.8,425.8 83.1,424.6 83.5,424.7 83.9,423.7 84.0,424.0 84.4,422.6 84.8,423.0 85.3,424.7 85.5,421.2 85.8,423.4 86.4,424.0 86.9,423.3 87.0,423.6 87.5,424.3 88.1,423.4 88.5,424.5 88.7,423.8 89.3,424.4 90.0,424.9 90.0,425.2 90.7,425.9 91.4,426.4 91.5,424.7 92.2,428.0 93.0,427.3 93.0,426.9 93.9,425.9 94.5,426.1 94.9,426.7 95.8,426.5 96.0,424.5 96.8,426.7 97.5,428.7 97.7,424.3 98.5,427.0 99.0,426.5 99.3,426.1 100.0,427.5 100.5,425.7 100.6,426.9 101.1,428.1 101.5,427.6 101.9,428.1 102.0,428.4 102.3,428.7 102.6,430.2 103.0,429.7 103.4,431.2 103.5,430.1 103.8,431.6 104.3,431.6 104.8,430.1 105.0,432.2 105.4,431.6 106.0,432.4 106.5,434.3 106.7,432.2 107.3,432.5 108.0,434.9 108.0,433.8 108.6,435.3 109.3,434.5 109.5,433.6 110.0,434.5 110.7,435.9 111.0,435.8 111.4,435.3 112.1,435.7 112.5,435.8 112.8,435.6 113.6,438.0 114.0,436.7 114.3,436.0 115.1,436.9 115.5,438.1 115.8,438.2 116.6,438.0 117.0,437.7 117.4,438.4 118.1,437.2 118.5,437.7 118.9,439.7 119.6,438.8 120.0,439.6 120.4,440.5 121.1,440.2 121.5,439.7 121.9,441.7 122.7,440.5 123.0,439.6 123.4,440.7 124.2,440.5 124.5,439.4 124.9,440.3 125.6,440.1 126.0,438.5 126.3,440.2 126.8,440.1 127.4,439.9 127.5,438.7 127.9,439.9 128.5,440.1 129.0,440.1 129.0,439.0 129.6,440.6 130.3,438.9 130.5,439.8 131.1,441.3 132.0,439.7 133.0,440.2 133.5,441.7 134.2,440.7 135.0,441.1 135.5,441.8 136.5,442.9 136.9,440.3 138.0,442.0 138.3,442.0 139.5,442.5 139.7,442.7 141.0,443.3 141.1,444.3 142.4,443.7 142.5,444.6 143.7,445.2 144.0,444.3 144.8,445.2 145.5,446.7 145.8,445.5 146.8,444.5 147.0,445.0 147.8,444.1 148.5,445.0 148.7,445.5 149.5,443.8 150.0,444.1 150.3,445.1 151.1,443.4 151.5,443.8 151.9,442.6 152.6,442.5 153.0,442.6 153.3,444.7 154.0,442.3 154.5,441.9 154.6,441.9 155.2,441.9 155.7,442.1 156.0,441.6 156.2,442.8 156.7,441.1 157.2,441.9 157.5,440.8 157.7,441.0 158.2,439.1 158.7,440.2 159.0,440.3 159.2,440.2 159.7,439.0 160.1,441.6 160.5,441.0 160.6,441.1 161.0,441.6 161.5,442.0 162.0,442.8 162.0,441.6 162.6,442.0 163.3,443.2 163.5,443.1 164.0,442.6 164.9,442.2 165.0,441.9 165.9,442.2 166.5,442.8 166.9,440.8 168.0,442.3 168.1,441.7 169.3,440.0 169.5,440.8 170.5,438.5 171.0,437.9 171.6,437.9 172.5,438.1 172.7,438.1 173.8,437.4 174.0,437.9 174.7,435.7 175.5,437.9 175.5,436.2 176.2,436.8 176.9,437.1 177.0,436.4 177.5,436.4 178.1,436.9 178.5,437.9 178.7,438.5 179.2,438.7 179.8,437.7 180.0,438.0 180.4,438.1 181.1,439.6 181.5,437.8 181.8,440.5 182.5,439.6 183.0,439.7 183.2,440.6 183.9,441.6 184.5,441.5 184.6,442.1 185.3,442.0 186.0,443.3 186.1,443.4 186.9,443.0 187.5,444.6 187.7,443.9 188.5,444.6 189.0,444.4 189.4,445.2 190.3,446.8 190.5,445.9 191.2,447.9 192.0,448.7 192.2,448.9 193.2,448.7 193.5,450.2 194.2,451.5 195.0,451.5 195.2,452.2 196.2,451.3 196.5,453.8 197.2,453.2 198.0,454.8 198.1,452.5 199.0,454.8 199.5,453.8 199.9,454.6 200.8,452.7 201.0,452.8 201.7,454.4 202.5,451.5 202.6,451.5 203.5,451.0 204.0,450.0 204.3,451.2 205.1,451.0 205.5,449.0 205.9,447.8 206.7,449.8 207.0,449.7 207.4,449.4 208.1,449.7 208.5,447.9 208.7,448.6 209.3,447.7 209.9,447.9 210.0,450.0 210.5,448.7 211.1,451.5 211.5,449.6 211.7,449.0 212.4,450.2 213.0,450.9 213.1,449.7 213.9,448.0 214.5,448.6 214.6,449.2 215.4,447.2 216.0,446.4 216.2,447.3 217.0,445.9 217.5,444.6 217.9,444.7 218.7,443.6 219.0,444.2 219.7,443.6 220.5,444.1 220.6,443.7 221.6,441.5 222.0,443.3 222.7,443.8 223.5,443.6 223.8,444.1 225.0,443.2 225.1,442.8 226.4,445.0 226.5,443.4 227.6,443.2 228.0,445.9 228.9,445.0 229.5,445.7 230.2,445.2 231.0,445.8 231.3,446.2 232.4,447.4 232.5,448.1 233.3,446.6 234.0,449.3 234.1,448.0 234.7,448.7 235.2,450.3 235.5,450.2 235.7,449.6 236.1,452.0 236.5,451.1 236.9,452.2 237.0,452.3 237.4,453.5 238.0,452.8 238.5,454.2 238.7,453.0 239.6,455.0 240.0,453.7 240.5,454.3 241.5,456.6 241.5,455.3 242.6,455.6 243.0,457.5 243.7,456.2 244.5,455.5 244.9,456.9 246.0,455.7 246.0,457.7 247.2,458.2 247.5,456.8 248.3,457.0 249.0,457.9 249.3,457.9 250.3,457.4 250.5,458.8 251.3,456.9 252.0,458.5 252.2,458.6 253.2,459.0 253.5,459.6 254.2,458.5 255.0,460.3 255.1,459.7 256.1,459.5 256.5,459.0 257.0,459.3 258.0,460.9 258.0,459.7 259.0,460.9 259.5,461.8 260.0,461.9 261.0,462.5 261.1,460.8 262.1,460.2 262.5,462.1 263.1,461.5 264.0,462.2 264.2,461.3 265.3,462.4 265.5,462.1 266.3,462.1 267.0,462.0 267.4,461.9 268.5,462.0 268.5,462.0 269.6,463.0 270.0,462.0 270.7,464.1 271.5,463.1 271.8,464.1 272.9,464.1 273.0,464.1 274.0,466.5 274.5,465.2 275.2,465.1 276.0,466.1 276.3,466.6 277.4,469.3 277.5,467.9 278.6,469.1 279.0,467.7 279.7,469.2 280.5,469.7 280.8,470.8 281.9,468.7 282.0,469.9 283.0,469.6 283.5,468.3 284.2,469.1 285.0,468.7 285.3,466.8 286.4,469.0 286.5,468.9 287.5,467.7 288.0,466.8 288.6,468.9 289.5,467.5 289.8,468.1 290.9,468.0 291.0,466.3 292.0,467.1 292.5,466.0 293.1,466.0 294.0,465.7 294.3,465.6 295.4,466.2 295.5,465.3 296.6,464.7 297.0,464.4 297.8,464.7 298.5,463.4 298.9,463.5 300.0,463.5 300.0,463.0 301.1,463.0 301.5,462.4 302.2,464.3 303.0,463.4 303.2,462.6 304.2,461.7 304.5,463.4 305.1,461.6 305.9,460.9 306.0,461.2 306.8,460.8 307.5,461.4 307.6,460.2 308.4,461.5 309.0,458.7 309.2,459.9 310.0,458.1 310.5,460.1 310.8,458.2 311.6,458.0 312.0,458.5 312.4,458.5 313.3,456.1 313.5,456.6 314.1,455.4 314.9,456.0 315.0,455.8 315.7,455.1 316.5,454.3 316.5,454.5 317.4,453.7 318.0,454.2 318.2,454.8 319.1,451.6 319.5,452.7 320.0,452.1 320.9,452.1 321.0,451.0 321.9,451.0 322.5,449.9 322.9,451.0 324.0,449.8 324.0,449.6 325.0,449.3 325.5,448.5 326.0,447.2 327.0,448.1 327.0,447.9 328.0,446.8 328.5,447.2 328.9,447.0 329.8,444.7 330.0,444.7 330.6,445.6 331.4,444.6 331.5,443.2 332.1,442.2 332.9,441.6 333.0,441.5 333.6,440.1 334.2,440.1 334.5,439.0 334.9,438.5 335.5,438.9 336.0,437.4 336.2,437.6 336.8,437.4 337.4,437.0 337.5,436.1 338.0,435.9 338.6,434.9 339.0,436.4 339.1,435.5 339.7,433.8 340.2,434.3 340.5,434.7 340.8,434.4 341.3,435.3 341.8,434.8 342.0,433.1 342.4,433.4 342.9,432.3 343.5,433.8 343.5,433.7 344.0,436.0 344.5,434.1 345.0,432.7 345.0,433.8 345.6,434.7 346.1,433.8 346.5,434.2 346.7,434.7 347.3,435.3 348.0,434.8 348.7,433.9 349.5,434.9 349.5,433.8 350.4,433.4 351.0,432.4 351.3,432.7 352.2,433.2 352.5,431.3 353.1,432.0 354.0,431.9 354.0,431.1 354.9,430.8 355.5,429.4 355.7,430.9 356.4,430.0 357.0,428.8 357.1,427.5 357.7,427.3 358.2,427.7 358.5,427.7 358.7,426.7 359.2,426.4 359.7,424.7 360.0,424.4 360.2,424.2 360.7,423.6 361.3,421.7 361.5,422.8 362.0,422.3 362.7,420.0 363.0,419.5 363.5,419.5 364.3,417.8 364.5,416.6 365.1,417.1 365.9,415.4 366.0,415.0 366.8,415.2 367.5,413.3 367.7,412.5 368.6,412.1 369.0,411.0 369.5,410.8 370.4,411.4 370.5,410.6 371.3,410.8 372.0,412.9 372.3,412.4 373.2,413.0 373.5,413.1 374.2,413.9 375.0,415.3 375.2,414.7 376.2,417.0 376.5,415.7 377.2,417.0 378.0,417.1 378.2,417.9 379.2,419.4 379.5,420.3 380.2,418.9 381.0,419.7 381.2,419.4 382.2,419.2 382.5,418.8 383.1,419.8 384.0,418.1 384.1,419.7 385.1,419.4 385.5,418.7 386.1,418.2 387.0,417.6 387.0,420.4 388.0,417.3 388.5,419.8 389.0,418.8 390.0,417.8 391.0,417.0 391.5,418.9 392.0,419.5 393.0,417.0 393.1,417.6 394.1,418.8 394.5,418.1 395.2,419.6 396.0,417.2 396.2,418.2 397.2,416.5 397.5,419.5 398.2,416.9 399.0,415.4 399.1,417.3 400.0,417.1 400.5,418.7 400.8,416.6 401.6,416.6 402.0,416.8 402.3,417.4 403.0,415.7 403.5,416.2 403.7,415.7 404.3,414.6 404.9,414.5 405.0,414.5 405.5,413.4 406.2,415.0 406.5,412.6 406.8,414.8 407.4,414.7 408.0,414.0 408.0,413.5 408.5,414.2 409.0,415.2 409.5,415.7 409.6,415.5 410.1,416.4 410.7,415.6 411.0,416.4 411.3,414.9 412.0,417.0 412.5,416.4 412.7,415.8 413.5,416.7 414.0,416.0 414.5,413.1 415.5,414.4 415.5,413.3 416.5,414.1 417.0,414.6 417.6,412.0 418.5,411.6 418.7,411.2 419.7,410.7 420.0,410.6 420.7,410.5 421.5,408.3 421.7,410.0 422.5,407.6 423.0,408.5 423.3,409.2 424.0,408.8 424.5,407.4 424.6,407.6 425.2,408.1 425.8,408.7 426.0,409.8 426.4,408.0 426.9,409.7 427.4,410.0 427.5,410.0 427.9,409.9 428.4,410.6 428.9,409.4 429.0,409.4 429.3,408.9 429.6,408.7 430.0,406.5 430.3,407.0 430.5,405.9 430.6,405.7 431.0,404.6 431.4,403.5 431.8,403.9 432.0,403.5 432.3,404.4 432.9,402.8 433.5,405.5 433.5,404.6 434.2,404.7 434.9,404.9 435.0,405.0 435.6,405.3 436.4,406.3 436.5,406.8 437.1,407.2 437.8,406.7 438.0,407.7 438.5,407.5 439.1,408.5 439.5,410.0 439.7,408.9 440.2,407.9 440.7,406.7 441.0,406.6 441.1,406.2 441.6,407.3 442.1,405.9 442.5,406.0 442.5,405.5 443.0,405.7 443.5,406.6 444.0,404.8 444.6,405.4 445.1,405.5 445.5,407.0 445.7,406.0 446.3,406.7 446.9,407.3 447.0,407.3 447.6,409.1 448.2,411.1 448.5,409.2 448.8,410.7 449.3,410.8 449.9,409.8 450.0,410.6 450.4,410.6 450.9,410.1 451.4,411.8 451.5,409.0 451.8,410.3 452.3,409.8 452.8,408.8 453.0,409.0 453.2,409.3 453.7,408.4 454.2,408.4 454.5,408.6 454.8,406.1 455.4,409.2 456.0,409.9 456.1,408.7 456.8,408.8 457.5,406.8 457.5,407.9 458.2,407.4 458.9,407.8 459.0,409.2 459.6,407.8 460.3,408.7 460.5,407.3 461.0,408.9 461.6,409.5 462.0,409.2 462.2,409.3 462.7,411.4 463.1,410.1 463.5,410.7 463.6,410.9 464.0,412.5 464.4,413.6 464.9,413.3 465.0,412.8 465.4,413.4 465.9,414.9 466.5,414.0 467.2,416.3 468.0,416.8 468.0,415.8 468.8,416.7 469.5,417.3 469.6,418.0 470.5,416.4 471.0,418.5 471.4,417.4 472.2,417.5 472.5,418.3 473.0,418.2 473.8,417.7 474.0,417.1 474.4,417.8 474.9,419.6 475.4,419.2 475.5,418.3 475.8,418.2 476.2,416.7 476.5,416.2 476.9,415.7 477.0,414.9 477.2,414.5 477.5,414.5 477.9,413.8 478.3,412.9 478.5,414.2 478.8,413.6 479.2,414.8 479.7,414.4 480.0,414.5 480.2,415.0 480.7,415.3 481.2,415.5 481.5,415.9 481.7,416.9 482.2,417.2 482.7,417.9 483.0,415.2 483.2,416.4 483.7,416.1 484.2,416.1 484.5,415.3 484.6,415.1 485.1,415.2 485.6,414.1 486.0,412.8 486.1,413.8 486.6,412.7 487.1,411.1 487.5,410.9 487.6,410.1 488.1,409.9 488.7,408.2 489.0,407.3 489.2,407.0 489.8,405.6 490.4,404.6 490.5,404.5 491.1,403.2 491.7,401.6 492.0,399.8 492.3,400.5 492.8,398.4 493.4,397.9 493.5,398.0 493.9,396.7 494.4,395.3 494.8,394.3 495.0,393.9 495.2,393.1 495.7,392.1 496.0,391.0 496.4,390.6 496.5,390.0 496.8,389.5 497.1,388.1 497.5,387.1 497.8,385.9 498.0,385.3 498.1,384.9 498.4,383.6 498.7,382.2 499.0,381.0 499.2,380.2 499.5,378.6 499.5,378.5 499.7,377.6 500.0,376.1 500.2,374.6 500.5,372.9 500.8,371.7 501.0,369.9 501.0,369.7 501.3,367.8 501.5,365.8 501.8,363.9 502.0,362.2 502.3,360.4 502.5,358.7 502.5,358.3 502.8,356.5 503.0,355.0 503.2,353.2 503.4,351.9 503.6,350.4 503.8,349.1 504.0,347.6 504.0,347.2 504.2,345.7 504.4,344.0 504.6,343.0 504.8,341.7 505.0,340.5 505.2,339.1 505.4,337.7 505.5,336.8 505.6,336.3 505.8,335.0 506.0,333.3 506.1,332.1 506.3,330.9 506.6,330.6 506.8,330.0 507.0,329.6 507.2,328.0 507.5,329.2 507.7,329.0 507.9,329.4 508.2,329.8 508.5,330.7 508.5,330.6 508.7,331.8 509.0,332.9 509.4,334.3 509.7,336.3 510.0,338.1 510.1,338.8 510.5,341.5 510.9,344.8 511.4,348.3 511.5,349.4 511.8,352.3 512.3,356.0 512.7,360.1 513.0,362.2 513.2,363.7 513.7,367.5 514.1,370.9 514.5,374.0 514.5,374.2 515.0,377.8 515.4,381.1 515.9,384.6 516.0,385.4 516.3,387.9 516.7,390.9 517.2,394.1 517.5,396.6 517.5,396.9 517.9,399.3 518.2,401.5 518.5,403.5 518.7,405.0 518.9,406.2 519.0,407.0 519.0,407.3 519.1,408.4 519.3,408.7 519.4,409.5 519.5,410.2 519.7,410.3 519.9,411.7 520.1,412.5 520.4,413.9 520.5,413.9 520.6,414.2 520.9,415.3 521.2,416.2 521.4,416.9 521.7,417.8 522.0,418.2 522.0,418.6 522.2,419.6 522.5,420.6 522.7,420.9 523.0,421.3 523.2,422.1 523.5,422.5 523.5,422.9 523.7,423.0 523.9,422.9 524.1,423.4 524.4,423.8 524.6,424.2 524.8,424.6 525.0,424.6 525.0,424.2 525.2,425.1 525.3,425.1 525.5,426.2 525.6,426.5 525.8,426.3 526.0,427.6 526.2,428.1 526.4,428.1 526.5,429.1 526.7,429.5 527.0,428.0 527.4,429.8 527.7,429.7 528.0,429.9 528.1,430.4 528.6,429.5 529.0,429.9 529.5,430.0 529.5,430.0 530.0,430.8 530.5,430.1 531.0,430.7 531.6,432.3 532.2,432.1 532.5,432.6 532.9,431.0 533.6,432.2 534.0,432.5 534.4,433.2 535.1,433.0 535.5,434.4 535.8,433.7 536.4,434.1 537.0,434.3 537.0,434.9 537.5,434.1 537.9,435.6 538.2,435.1 538.4,434.9 538.5,434.9 538.5,435.3 538.6,435.8 538.8,435.7 539.0,435.2 539.2,435.7 539.5,435.1 540.0,436.2 540.6,435.2 541.3,433.7 541.5,436.7 542.0,435.8 542.8,434.9 543.0,435.8 543.6,435.4 544.5,438.2 544.5,436.9 545.5,435.3 546.0,437.2 546.4,436.5 547.3,438.7 547.5,436.0 548.2,435.0 549.0,437.0 549.1,436.6 550.0,436.4 550.5,434.8 551.0,436.9 551.9,437.7 552.0,434.6 552.9,436.9 553.5,435.2 553.9,437.7 554.9,435.8 555.0,435.2 555.9,436.3 556.5,435.8 556.9,434.8 557.9,436.1 558.0,435.1 558.9,434.5 559.5,437.8 559.9,436.2 561.0,436.8 561.0,437.5 562.0,436.9 562.5,437.5 563.0,438.6 564.0,439.4 564.1,439.9 565.2,441.5 565.5,440.6 566.3,441.9 567.0,442.4 567.4,441.4 568.5,443.0 569.6,442.5 570.0,444.3 570.8,444.0 571.5,443.8 571.9,442.8 573.0,444.3 573.1,443.6 574.3,445.1 574.5,444.4 575.5,443.9 576.0,445.5 576.8,445.5 577.5,444.4 578.1,446.0 579.0,444.8 579.4,444.9 580.5,445.4 580.8,444.6 582.0,445.0 582.3,445.3 583.5,446.9 583.9,446.9 585.0,445.4 585.5,447.1 586.5,445.7 587.2,446.1 588.0,446.6 589.0,446.1 589.5,448.0 590.7,446.1 591.0,444.9 592.4,447.1 592.5,445.6 594.0,445.7 594.0,443.3 595.5,447.0 595.6,446.8 597.0,446.8 597.1,447.0 598.5,447.7 598.5,446.1 599.8,447.0 600.0,445.5 601.1,445.8 601.5,447.1 602.4,446.5 603.0,444.9 603.6,446.4 604.5,445.9 604.7,445.3 605.9,446.5 606.0,445.7 607.0,444.6 607.5,445.1 608.2,447.7 609.0,444.7 609.3,446.3 610.5,446.7 610.5,446.8 611.6,445.2 612.0,446.1 612.8,446.6 613.5,447.3 614.0,446.1 615.0,445.8 615.1,447.7 616.2,448.0 616.5,447.4 617.2,446.6 618.0,447.5 618.2,447.2 619.1,447.8 619.5,445.9 619.9,447.0 620.6,446.5 621.0,445.5 621.1,446.3 621.6,445.6 622.0,444.8 622.4,444.4 622.5,443.4 622.7,443.6 623.0,443.1 623.3,442.5 623.6,442.4 624.0,440.6 624.4,440.0 624.8,441.0 625.3,441.1 625.5,442.4 625.7,441.1 626.1,439.6 626.5,441.1 626.9,439.5 627.0,439.0 627.3,442.6 627.7,440.5 628.0,440.8 628.3,440.7 628.5,441.8 628.6,440.4 628.8,441.2 629.0,439.2 629.2,438.9 629.4,441.4 629.6,441.5 629.9,440.8 630.0,440.7 630.2,440.7 630.5,440.3 630.9,442.2 631.2,441.8 631.5,442.0 631.6,442.0 632.0,442.8 632.4,442.8 632.9,443.5 633.0,442.3 633.4,443.8 634.0,445.5 634.5,444.2 634.7,444.6 635.4,445.9 636.0,446.5 636.2,446.5 637.1,445.8 637.5,447.6 638.1,447.1 639.0,448.2 639.1,449.2 640.1,449.6 640.5,450.7 641.2,453.0 642.0,452.0 642.4,452.3 643.5,452.1 643.6,452.3 644.8,452.8 645.0,453.3 646.0,453.4 646.5,454.0 647.3,454.7 648.0,454.4 648.6,454.3 649.5,454.7 650.0,456.4 651.0,456.4 651.4,457.3 652.5,457.6 652.8,456.5 654.0,457.7 654.2,455.9 655.5,459.5 655.7,458.6 657.0,457.6 657.1,456.8 658.5,458.4 658.6,456.4 660.0,457.6 661.4,459.2 661.5,458.6 662.8,458.2 663.0,459.5 664.2,457.9 664.5,459.1 665.6,458.5 666.0,458.2 667.0,459.4 667.5,458.1 668.4,460.7 669.0,458.5 669.7,460.8 670.5,458.0 671.2,459.6 672.0,457.9 672.6,457.8 673.5,459.1 674.0,459.6 675.0,457.8 675.5,460.0 676.5,458.2 677.0,459.0 678.0,459.2 678.6,459.4 679.5,457.2 680.2,460.2 681.0,459.2 681.8,458.3 682.5,457.7 683.3,457.0 684.0,457.3 684.8,458.9 685.5,458.0 686.2,457.3 687.0,457.7 687.5,459.5 688.5,457.7 688.7,457.5 689.7,459.0 690.0,458.2 690.6,457.7 691.3,457.0 691.5,456.1 692.0,456.3 692.6,456.7 693.0,456.8 693.2,457.2 693.8,457.2 694.4,456.8 694.5,456.8 695.2,455.5 696.0,454.4 697.0,455.7 697.5,455.3 698.0,455.5 699.0,455.8 699.0,454.9 700.1,454.9 700.5,455.8 701.3,456.0 702.0,455.2 702.4,456.3 703.5,455.6 703.6,454.8 704.7,455.8 705.0,457.4 705.9,455.1 706.5,456.8 707.0,456.9 708.0,457.1 708.1,455.0 709.3,457.6 709.5,455.9 710.4,455.6 711.0,455.7 711.6,456.4 712.5,456.0 712.7,455.8 713.9,457.2 714.0,455.4 715.0,455.2 715.5,456.9 716.0,456.8 717.0,457.2 717.0,455.2 718.0,457.2 718.5,456.6 718.9,457.7 719.6,454.9 720.0,456.2 720.3,455.7 721.0,454.4 721.5,455.0 721.6,456.6 722.2,455.1 722.9,454.7 723.0,456.1 723.6,456.1 724.4,456.0 724.5,454.4 725.3,454.9 726.0,455.9 726.3,454.4 727.4,454.2 727.5,455.7 728.5,456.3 729.0,453.9 729.7,452.6 730.5,453.6 730.9,454.0 732.0,454.8 732.1,455.5 733.4,454.8 733.5,454.3 734.6,455.1 735.0,454.1 735.8,455.0 736.5,454.4 737.0,455.0" fill="none" stroke="#000000" stroke-width="4.4" stroke-linejoin="round" stroke-linecap="round"/>
<polyline points="836.0,509.6 836.6,505.5 837.1,501.5 837.5,498.7 837.7,497.4 838.2,493.6 838.7,489.6 839.0,487.8 839.3,485.7 839.9,481.6 840.5,477.4 840.5,477.4 841.2,473.3 842.0,468.9 842.9,464.4 843.5,461.3 843.9,459.4 845.0,454.4 845.1,454.0 846.3,448.3 846.5,447.4 847.5,443.5 848.0,441.3 848.7,438.2 849.5,434.6 849.8,433.1 850.9,428.4 851.0,427.8 851.8,424.4 852.5,421.1 852.6,420.6 853.2,417.5 853.8,415.0 854.0,413.7 854.2,412.6 854.5,411.1 854.8,409.3 855.0,407.8 855.3,406.6 855.5,405.2 855.5,404.9 855.7,403.7 856.0,401.8 856.3,400.3 856.6,398.5 856.9,397.8 857.0,396.7 857.2,396.4 857.4,394.8 857.7,393.5 858.0,392.2 858.2,390.7 858.5,389.0 858.5,388.8 858.7,387.0 858.9,384.9 859.2,382.5 859.4,380.1 859.6,377.4 859.8,374.7 860.0,372.3 860.0,371.9 860.2,369.2 860.4,366.4 860.6,363.6 860.8,361.0 861.0,358.6 861.1,356.1 861.3,353.9 861.4,351.8 861.5,350.4 861.6,349.5 861.7,347.2 861.9,344.5 862.0,341.9 862.2,338.4 862.4,335.1 862.6,331.0 862.9,326.3 863.0,323.6 863.1,321.2 863.4,315.8 863.7,310.4 864.0,304.8 864.2,299.4 864.5,294.3 864.5,294.2 864.8,289.3 865.0,285.0 865.2,280.7 865.4,276.5 865.6,272.1 865.8,267.9 866.0,264.1 866.0,264.0 866.2,260.4 866.4,257.5 866.6,255.1 866.8,253.9 867.0,252.6 867.2,253.9 867.5,255.2 867.5,255.7 867.7,257.4 867.9,260.4 868.2,263.9 868.4,268.0 868.7,272.2 868.9,276.6 869.0,277.4 869.2,280.8 869.5,285.0 869.8,289.4 870.1,294.2 870.5,299.5 870.5,300.3 870.8,304.8 871.1,310.4 871.5,316.0 871.8,321.3 872.0,324.1 872.1,326.4 872.4,330.9 872.7,335.0 872.9,338.5 873.1,341.5 873.3,344.4 873.5,346.8 873.5,346.8 873.7,349.1 873.8,351.3 874.0,353.3 874.1,355.4 874.3,357.5 874.5,360.0 874.7,362.4 874.9,365.0 875.0,367.0 875.0,367.6 875.2,370.3 875.4,372.7 875.6,375.2 875.8,377.6 876.1,379.9 876.4,382.3 876.5,382.8 876.8,384.1 877.2,386.5 877.7,388.4 878.0,389.6 878.2,390.3 878.8,391.7 879.4,393.4 879.5,394.6 880.0,395.5 880.7,396.4 881.0,397.8 881.3,398.2 882.1,398.9 882.5,399.3 882.8,400.1 883.6,402.1 884.0,402.4 884.5,402.8 885.4,404.0 885.5,404.3 886.4,403.0 887.0,404.7 887.4,404.5 888.3,404.7 888.5,405.3 889.3,406.0 890.0,406.2 890.2,405.3 891.1,406.4 891.5,408.6 891.9,406.1 892.6,405.6 893.0,407.3 893.3,407.6 894.0,407.3 894.5,405.8 894.7,407.6 895.3,405.8 895.9,405.2 896.0,405.5 896.4,405.6 896.9,405.8 897.4,405.3 897.5,404.8 897.9,405.1 898.3,404.2 898.7,404.3 899.0,402.7 899.0,402.5 899.2,403.3 899.5,401.9 899.7,401.9 899.9,401.5 900.2,400.8 900.5,400.4 900.6,401.2 901.0,398.5 901.5,400.0 902.0,400.2 902.0,398.9 902.5,398.2 903.1,398.1 903.5,398.3 903.7,396.2 904.3,396.4 905.0,395.6 905.0,396.0 905.6,395.2 906.3,395.0 906.5,394.1 907.0,394.0 907.7,393.0 908.0,392.8 908.5,393.0 909.3,392.5 909.5,391.6 910.2,393.5 911.0,391.8 911.8,390.4 912.5,392.1 912.7,390.5 913.5,391.2 914.0,390.5 914.3,390.6 915.0,390.1 915.5,389.3 915.7,389.6 916.3,390.7 916.9,387.1 917.0,388.7 917.4,388.7 918.0,387.2 918.5,386.6 918.6,389.1 919.1,386.9 919.7,388.3 920.0,387.0 920.3,386.4 921.0,386.4 921.5,386.3 921.7,386.6 922.5,385.7 923.0,385.3 923.4,385.2 924.2,385.9 924.5,385.4 925.1,383.6 926.0,383.6 926.0,384.5 926.8,383.4 927.5,383.3 927.6,382.8 928.4,383.1 929.0,383.3 929.5,383.4 930.0,382.3 930.4,383.0 930.5,381.7 930.7,383.2 931.1,381.6 931.4,380.9 931.7,379.9 932.0,378.1 932.1,379.8 932.5,379.8 933.0,381.2 933.5,378.2 933.6,381.1 934.2,379.1 934.9,380.0 935.0,377.1 935.6,379.6 936.3,379.3 936.5,380.2 937.1,379.8 937.8,378.9 938.0,380.7 938.6,380.7 939.3,380.8 939.5,381.2 940.0,381.4 940.7,380.7 941.0,379.8 941.4,379.9 942.0,382.4 942.5,382.2 942.7,381.8 943.3,381.8 944.0,382.5 944.0,382.5 944.7,382.6 945.4,382.7 945.5,385.1 946.2,383.8 947.0,383.5 947.9,383.2 948.5,384.0 948.8,385.3 949.8,385.7 950.0,384.9 950.8,385.4 951.5,385.3 951.8,384.7 952.9,387.1 953.0,386.4 953.9,388.5 954.5,385.9 955.0,386.6 956.0,387.9 956.0,386.9 957.0,386.3 957.5,386.9 958.0,388.0 959.0,388.6 960.0,388.7 960.5,389.9 961.0,390.1 962.0,390.0 963.0,390.3 963.5,390.3 964.0,391.2 965.0,391.9 966.0,391.7 966.5,392.2 967.0,391.7 968.0,391.2 968.0,391.6 969.0,393.5 969.5,393.4 969.9,394.6 970.9,393.7 971.0,394.5 971.8,395.2 972.5,395.2 972.8,393.9 973.8,394.6 974.0,394.9 974.8,394.1 975.5,395.4 975.9,396.0 977.0,394.6 978.2,396.5 978.5,394.5 979.5,394.3 980.0,394.0 980.8,393.3 981.5,394.0 982.1,393.4 983.0,394.3 983.5,393.2 984.5,392.6 984.9,391.8 986.0,390.3 986.2,391.3 987.5,390.1 987.5,391.6 988.8,390.3 989.0,391.7 990.0,390.6 990.5,390.7 991.1,390.0 992.0,389.9 992.2,390.3 993.2,390.6 993.5,389.1 994.2,390.3 995.0,392.3 995.2,389.9 996.1,389.8 996.5,389.5 997.1,388.8 998.0,391.2 998.0,390.2 999.0,390.4 999.5,391.7 1000.0,392.2 1001.0,389.0 1001.0,390.7 1002.0,390.0 1002.5,389.7 1003.1,389.5 1004.0,388.8 1004.1,390.1 1005.2,388.8 1005.5,388.5 1006.2,388.9 1007.0,388.2 1007.2,387.8 1008.2,387.2 1008.5,388.2 1009.1,386.9 1010.0,385.9 1010.8,384.9 1011.5,384.9 1011.6,384.3 1012.3,384.7 1013.0,384.3 1013.0,382.6 1013.6,383.6 1014.3,383.5 1014.5,383.0 1014.9,381.9 1015.6,382.9 1016.0,381.2 1016.3,380.6 1017.0,380.2 1017.5,380.7 1017.8,381.2 1018.5,380.9 1019.0,379.8 1019.3,378.6 1020.0,378.5 1020.5,378.0 1020.8,378.4 1021.6,376.6 1022.0,377.8 1022.4,378.0 1023.3,376.9 1023.5,377.2 1024.1,375.8 1025.0,374.8 1025.9,375.0 1026.5,376.3 1026.9,376.0 1027.9,374.4 1028.0,375.8 1028.9,374.2 1029.5,375.6 1029.9,374.6 1031.0,373.4 1031.0,374.4 1032.0,372.7 1032.5,372.3 1033.0,371.6 1034.0,372.1 1034.0,371.9 1035.0,371.0 1035.5,370.2 1036.0,370.6 1036.9,368.3 1037.0,368.0 1037.8,367.5 1038.5,366.4 1038.8,365.4 1039.7,362.8 1040.0,362.7 1040.6,362.0 1041.5,360.0 1041.5,360.6 1042.4,357.7 1043.0,357.6 1043.4,356.4 1044.3,355.9 1044.5,354.9 1045.3,354.4 1046.0,352.6 1046.2,351.9 1047.2,350.9 1047.5,350.8 1048.2,349.8 1049.0,350.3 1049.2,350.2 1050.2,348.4 1050.5,347.3 1051.1,347.1 1052.0,345.7 1052.0,346.8 1052.9,344.9 1053.5,344.1 1053.8,343.2 1054.6,341.1 1055.0,340.9 1055.4,340.1 1056.1,339.2 1056.5,338.3 1056.8,337.3 1057.5,335.9 1058.0,335.3 1058.2,334.0 1058.8,332.3 1059.5,330.8 1059.5,330.6 1060.2,328.7 1060.9,326.9 1061.0,327.0 1061.6,324.1 1062.3,322.0 1062.5,321.5 1063.1,319.4 1063.8,316.6 1064.0,315.8 1064.5,314.0 1065.2,310.9 1065.5,310.0 1066.0,308.2 1066.7,305.6 1067.0,304.3 1067.3,303.3 1068.0,300.8 1068.5,299.2 1068.6,298.7 1069.3,296.4 1069.9,294.5 1070.0,294.0 1070.4,292.9 1071.0,290.9 1071.5,289.4 1071.6,289.5 1072.2,288.1 1072.7,285.9 1073.0,286.6 1073.3,285.3 1073.9,284.2 1074.5,283.8 1074.5,283.3 1075.1,282.1 1075.7,283.2 1076.0,280.8 1076.3,281.2 1077.0,281.5 1077.5,279.7 1077.6,280.4 1078.2,280.7 1078.8,282.5 1079.0,279.6 1079.4,280.5 1080.0,281.3 1080.5,281.2 1080.6,280.3 1081.2,282.0 1081.8,282.5 1082.0,283.0 1082.3,283.8 1082.9,284.7 1083.5,285.5 1083.5,285.5 1084.1,286.2 1084.6,287.9 1085.0,289.0 1085.2,289.4 1085.8,291.3 1086.4,293.1 1086.5,294.1 1087.0,295.9 1087.5,297.7 1088.0,300.0 1088.1,300.3 1088.7,303.3 1089.2,305.9 1089.5,307.0 1089.8,308.6 1090.4,311.6 1091.0,314.0 1091.1,314.6 1091.7,317.2 1092.4,320.3 1092.5,320.9 1093.0,323.6 1093.7,326.6 1094.0,327.9 1094.5,329.7 1095.2,333.3 1095.5,334.6 1095.9,336.4 1096.6,339.6 1097.0,341.3 1097.4,342.2 1098.1,345.6 1098.5,346.6 1098.8,348.4 1099.5,350.0 1100.0,351.8 1100.2,352.4 1100.9,355.5 1101.5,356.2 1101.6,357.1 1102.3,358.8 1103.0,360.0 1103.1,360.7 1103.8,362.7 1104.5,364.0 1104.5,364.5 1105.2,365.5 1105.9,367.0 1106.0,367.0 1106.6,368.4 1107.3,370.4 1107.5,369.9 1108.0,370.6 1108.7,371.1 1109.0,371.3 1109.5,373.2 1110.2,372.3 1110.5,372.8 1110.9,373.7 1111.6,374.0 1112.0,376.0 1112.3,373.1 1113.0,375.6 1113.5,376.1 1113.7,374.8 1114.3,375.5 1114.9,376.6 1115.0,377.7 1115.4,375.5 1116.0,375.0 1116.5,377.3 1116.7,377.8 1117.3,376.0 1118.0,374.2 1118.1,377.4 1119.0,375.8 1119.5,376.8 1120.0,375.7 1121.0,375.1 1121.2,375.0 1122.5,376.2 1122.5,376.1 1123.9,372.6 1124.0,373.6 1125.4,375.3 1125.5,373.5 1127.0,372.0 1127.0,373.1 1128.5,372.4 1128.6,372.4 1130.0,371.4 1130.2,371.5 1131.5,370.8 1131.8,371.3 1133.0,369.8 1133.3,370.1 1134.5,369.6 1134.7,370.7 1136.0,369.3 1136.0,368.9 1137.3,368.8 1137.5,368.6 1138.5,368.6 1139.0,367.9 1139.8,368.6 1140.5,367.8 1141.0,366.5 1142.0,365.6 1142.1,366.5 1143.3,365.5 1143.5,364.9 1144.5,363.2 1145.0,362.6 1145.7,363.6 1146.5,363.2 1146.9,362.8 1148.0,360.4 1148.1,361.8 1149.4,359.5 1149.5,360.0 1150.6,358.8 1151.0,357.6 1151.9,356.7 1152.5,355.1 1153.2,355.0 1154.0,353.5 1154.4,354.3 1155.5,352.6 1155.6,352.9 1156.8,351.0 1157.0,350.2 1158.0,349.4 1158.5,348.3 1159.1,347.9 1160.0,346.4 1160.2,345.5 1161.2,344.4 1161.5,344.0 1162.3,342.6 1163.0,341.9 1163.2,341.8 1164.2,339.2 1164.5,338.7 1165.2,336.7 1166.0,336.1 1166.1,335.7 1167.1,333.2 1167.5,333.4 1168.0,332.6 1168.9,330.2 1169.0,330.1 1169.8,328.3 1170.5,327.6 1170.7,326.2 1171.6,324.8 1172.0,324.9 1172.5,323.0 1173.4,321.2 1173.5,320.8 1174.3,318.6 1175.0,317.4 1175.1,317.2 1176.0,314.7 1176.5,313.7 1176.7,313.4 1177.5,311.2 1178.0,309.0 1178.2,308.5 1178.9,306.3 1179.5,304.9 1179.5,304.7 1180.1,302.6 1180.7,300.0 1181.0,298.8 1181.3,298.0 1181.8,295.8 1182.4,293.3 1182.5,293.2 1183.0,291.4 1183.6,289.0 1184.0,287.1 1184.2,286.0 1184.8,283.9 1185.5,281.4 1185.5,281.2 1186.1,278.6 1186.7,275.9 1187.0,275.1 1187.3,273.5 1188.0,271.0 1188.5,268.7 1188.6,268.5 1189.1,266.5 1189.7,264.2 1190.0,263.2 1190.2,262.6 1190.8,261.4 1191.3,259.6 1191.5,259.4 1191.8,258.1 1192.3,256.7 1192.8,255.1 1193.0,255.0 1193.3,255.1 1193.7,253.8 1194.2,253.2 1194.5,252.7 1194.6,252.2 1195.0,251.5 1195.4,251.3 1195.8,251.4 1196.0,251.1 1196.1,251.0 1196.5,250.7 1196.8,250.0 1197.1,250.6 1197.5,250.5 1197.5,251.8 1197.9,250.6 1198.3,252.2 1198.7,254.1 1199.0,253.6 1199.2,253.7 1199.6,255.2 1200.1,256.9 1200.5,257.6 1200.6,258.1 1201.1,259.5 1201.6,261.1 1202.0,263.3 1202.1,263.0 1202.7,264.7 1203.2,266.8 1203.5,268.2 1203.8,269.2 1204.3,271.6 1204.9,274.1 1205.0,274.4 1205.4,276.9 1206.0,279.5 1206.5,281.8 1206.6,282.2 1207.3,285.2 1207.9,288.1 1208.0,288.6 1208.6,290.7 1209.3,293.8 1209.5,294.5 1210.1,296.2 1210.9,299.1 1211.0,299.4 1211.7,302.2 1212.5,303.7 1212.6,304.6 1213.5,306.9 1214.0,308.9 1214.4,310.4 1215.3,312.6 1215.5,313.6 1216.1,315.2 1217.0,318.6 1217.0,318.4 1217.8,321.0 1218.5,322.7 1218.6,323.0 1219.3,326.1 1220.0,328.3 1220.0,328.5 1220.6,331.0 1221.3,333.1 1221.5,334.4 1221.9,335.9 1222.7,338.4 1223.0,339.1 1223.4,340.8 1224.3,342.7 1224.5,343.8 1225.2,345.6 1226.0,347.3 1226.2,347.6 1227.3,349.8 1227.5,348.9 1228.4,352.1 1229.0,352.8 1229.5,353.9 1230.5,355.4 1230.7,355.2 1231.9,357.6 1232.0,358.3 1233.2,360.5 1233.5,359.7 1234.6,361.0 1235.0,362.9 1236.0,362.6 1236.5,365.0 1237.4,364.7 1238.0,364.7 1238.9,366.8 1239.5,367.8 1240.4,366.3 1241.0,368.9 1241.9,368.2 1242.5,369.9 1243.5,369.1 1244.0,368.5 1245.2,370.8 1245.5,371.3 1246.9,372.9 1247.0,372.7 1248.5,372.5 1248.7,371.9 1250.0,372.2 1250.5,372.6 1251.5,372.6 1252.5,373.4 1253.0,371.8 1254.5,374.6 1256.0,375.1 1256.7,377.5 1257.5,376.3 1259.0,375.8 1259.1,376.7 1260.5,375.6 1261.7,376.5 1262.0,375.5 1263.5,378.8 1264.4,378.4 1265.0,377.0 1266.5,378.4 1267.1,379.5 1268.0,379.4 1269.5,379.7 1269.8,378.7 1271.0,379.2 1272.4,380.2 1272.5,381.0 1274.0,379.8 1274.8,379.8 1275.5,381.9 1277.0,380.5 1277.1,382.3 1278.5,381.9 1279.0,382.6 1280.0,383.6 1280.6,382.8 1281.5,383.0 1282.0,381.6 1283.0,382.0 1283.2,383.2 1284.2,384.2 1284.5,384.1 1285.1,384.9 1285.9,383.2 1286.0,383.1 1286.8,383.9 1287.5,383.0 1287.7,382.9 1288.8,382.1 1289.0,383.9 1290.0,382.1 1290.5,383.6 1291.3,381.9 1292.0,384.3 1292.8,382.4 1293.5,384.2 1294.2,382.1 1295.0,383.2 1295.7,384.7 1296.5,383.0 1297.3,383.8 1298.0,383.4 1298.8,381.8 1299.5,384.2 1300.4,384.3 1301.0,382.9 1302.0,384.4 1302.5,383.2 1303.6,382.9 1304.0,383.8 1305.2,383.1 1305.5,385.7 1306.8,382.1 1307.0,384.1 1308.4,384.0 1308.5,381.4 1310.0,381.2 1310.0,383.2 1311.5,381.9 1311.6,382.6 1313.0,382.8 1313.2,381.5 1314.5,380.5 1314.9,378.9 1316.0,381.1 1316.5,379.9 1317.5,380.7 1318.2,380.4 1319.0,378.8 1319.9,381.2 1320.5,380.5 1321.7,380.0 1322.0,378.2 1323.5,378.5 1323.5,378.4 1325.0,378.2 1325.3,377.5 1326.5,378.6 1327.2,378.3 1328.0,378.2 1329.1,377.2 1329.5,378.7 1331.0,377.5 1331.0,374.9 1332.5,376.4 1333.0,376.9 1334.0,377.6 1334.9,376.3 1335.5,376.2 1336.9,375.6 1337.0,376.7 1338.5,375.5 1338.8,375.3 1340.0,375.0 1340.7,376.0 1341.5,374.9 1342.6,373.7 1343.0,375.7 1344.5,374.2 1346.0,374.9 1346.4,374.9 1347.5,375.4 1348.3,375.1 1349.0,373.6 1350.2,373.8 1350.5,372.7 1352.0,375.2 1352.1,374.0 1353.5,374.7 1354.0,373.1 1355.0,371.5 1355.9,374.6 1356.5,373.2 1357.8,373.1 1358.0,373.1 1359.5,373.5 1359.7,373.4 1361.0,371.4 1361.6,373.8 1362.5,372.4 1363.5,372.5 1364.0,374.4 1365.4,373.8 1365.5,372.7 1367.0,371.4 1367.3,373.2 1368.5,373.6 1369.2,373.1 1370.0,372.1 1371.1,372.6 1371.5,372.2 1373.0,373.7 1374.5,374.3 1374.9,374.5 1376.0,372.9 1376.8,373.8 1377.5,374.1 1378.7,373.1 1379.0,373.5 1380.5,375.4 1380.6,373.7 1382.0,374.2 1382.6,373.0 1383.5,373.4 1384.6,371.7 1385.0,373.2 1386.5,374.2 1386.6,375.0 1388.0,374.1 1388.6,373.5 1389.5,372.9 1390.6,372.2 1391.0,372.5 1392.5,373.0 1392.5,371.8 1394.0,373.1 1394.3,371.4 1395.5,370.5 1396.1,371.1 1397.0,370.3 1397.7,370.5 1398.5,372.5 1399.2,371.2 1400.0,371.4 1400.5,372.1 1401.5,371.9 1401.7,370.3 1402.9,371.4 1403.0,370.6 1404.0,369.9 1404.5,370.1 1405.1,368.3 1406.0,368.5 1406.3,369.0 1407.5,369.2 1407.5,368.4 1408.8,368.2 1409.0,369.1 1410.3,369.1 1410.5,368.5 1411.9,368.6 1412.0,367.1 1413.5,366.9 1413.7,367.4 1415.0,366.6 1415.5,366.3 1416.5,368.0 1417.4,366.1 1418.0,365.4 1419.4,366.4 1419.5,367.5 1421.0,365.7 1421.4,366.6 1422.5,364.9 1423.4,364.7 1424.0,364.4 1425.4,364.7 1425.5,366.4 1427.0,363.5 1427.4,365.9 1428.5,363.3 1429.3,363.9 1430.0,364.7 1431.2,364.4 1431.5,364.0 1433.0,362.1 1433.2,363.8 1434.5,362.4 1435.2,365.5 1436.0,363.0 1437.2,363.2 1437.5,361.9 1439.0,362.4 1439.2,361.6 1440.5,363.5 1441.2,362.3 1442.0,362.9 1443.1,361.7 1443.5,361.8 1444.9,363.2 1445.0,361.2 1446.5,360.2 1446.7,362.1 1448.0,360.5 1448.3,361.1 1449.5,362.1 1449.8,360.5 1451.0,361.7 1451.3,360.3 1452.5,361.9 1452.6,361.8 1453.9,359.9 1454.0,360.1 1455.2,359.2 1455.5,360.0 1456.4,360.6 1457.0,358.2 1457.5,360.1 1458.5,357.9 1458.7,358.2 1459.8,357.1 1460.0,360.5 1461.0,358.5 1461.5,358.5 1462.1,357.5 1463.0,358.8 1463.2,356.0 1464.3,357.6 1464.5,359.5 1465.4,357.0 1466.0,357.2 1466.4,357.7 1467.4,356.1 1467.5,356.8 1468.4,357.4 1469.0,356.6 1469.4,356.6 1470.5,355.8 1470.5,356.3 1471.5,355.8" fill="none" stroke="#000000" stroke-width="4.4" stroke-linejoin="round" stroke-linecap="round"/>
<polyline points="836.0,509.6 836.5,503.8 836.9,497.8 837.3,491.8 837.5,489.9 837.8,486.2 838.2,480.2 838.7,474.3 839.0,470.0 839.1,468.6 839.6,462.6 840.1,456.7 840.5,452.0 840.6,450.9 841.2,444.8 841.8,438.7 842.0,436.3 842.4,432.8 843.0,426.6 843.5,422.1 843.7,420.2 844.3,414.2 845.0,408.3 845.0,407.8 845.6,402.3 846.1,396.3 846.5,391.6 846.6,390.4 847.0,384.6 847.4,378.5 847.8,372.4 848.0,368.9 848.1,366.4 848.4,360.5 848.7,354.8 849.0,349.2 849.3,344.0 849.5,339.8 849.5,339.3 849.8,335.1 850.1,331.3 850.3,327.9 850.5,325.0 850.7,322.2 851.0,320.0 851.0,319.4 851.2,317.8 851.4,315.8 851.6,313.9 851.8,311.8 852.0,310.1 852.2,308.1 852.5,306.4 852.5,306.2 852.7,304.9 852.9,303.7 853.1,302.5 853.4,301.2 853.6,300.1 853.9,298.6 854.0,297.8 854.1,296.9 854.4,295.5 854.7,293.6 855.0,291.7 855.3,289.8 855.5,288.9 855.7,287.6 856.0,285.5 856.4,283.6 856.7,281.5 857.0,279.9 857.1,279.4 857.5,277.3 857.8,275.0 858.1,272.7 858.5,270.4 858.5,270.4 858.8,268.3 859.2,266.2 859.5,263.9 859.9,261.6 860.0,260.9 860.3,259.4 860.6,256.9 861.0,254.5 861.3,252.0 861.5,250.4 861.6,249.3 862.0,246.7 862.3,243.8 862.7,240.8 863.0,237.9 863.0,238.2 863.3,234.9 863.7,232.2 864.0,229.5 864.4,226.8 864.5,226.1 864.7,224.9 865.0,222.6 865.4,220.4 865.7,218.1 866.0,216.3 866.1,216.1 866.4,214.0 866.7,212.2 867.1,210.8 867.4,210.0 867.5,209.6 867.8,209.3 868.1,206.9 868.4,209.6 868.8,210.4 869.0,210.8 869.1,210.8 869.5,212.2 869.8,214.2 870.1,216.0 870.5,218.3 870.5,218.3 870.8,220.5 871.2,222.8 871.5,224.4 871.8,226.9 872.0,227.8 872.2,229.0 872.5,231.6 872.9,234.3 873.2,237.1 873.5,238.7 873.6,239.8 874.0,242.6 874.3,245.0 874.7,247.5 875.0,249.8 875.3,251.9 875.7,254.3 876.0,256.4 876.4,258.5 876.5,259.6 876.7,260.6 877.0,262.5 877.4,264.7 877.7,266.2 878.0,267.8 878.1,268.3 878.4,270.2 878.7,272.4 879.1,274.2 879.4,276.5 879.5,276.9 879.8,278.3 880.1,280.1 880.5,282.1 880.8,284.0 881.0,284.7 881.1,285.6 881.5,287.3 881.8,288.6 882.1,290.3 882.5,291.4 882.5,291.1 882.8,292.2 883.1,293.0 883.4,294.3 883.7,294.7 884.0,295.9 884.1,295.9 884.4,296.9 884.7,297.2 885.0,297.5 885.3,299.3 885.5,299.1 885.6,299.8 885.9,300.1 886.1,300.7 886.4,301.8 886.7,301.6 887.0,302.6 887.0,301.1 887.3,302.8 887.6,302.5 888.0,302.9 888.4,303.3 888.5,303.6 888.9,304.9 889.3,302.2 889.8,304.0 890.0,303.4 890.3,305.1 890.8,303.9 891.4,304.8 891.5,304.1 891.9,305.1 892.5,305.6 893.0,304.7 893.6,305.4 894.1,304.7 894.5,306.2 894.7,306.8 895.3,306.2 895.9,307.9 896.0,305.6 896.6,306.1 897.2,306.8 897.5,307.7 897.8,308.2 898.4,308.4 899.0,308.4 899.6,309.1 900.2,307.8 900.5,307.1 900.8,307.0 901.4,309.2 902.0,305.4 902.6,306.6 903.2,307.3 903.5,306.4 903.8,305.2 904.4,305.4 905.0,305.7 905.6,305.7 906.2,303.7 906.5,304.9 906.8,304.3 907.4,304.7 908.0,304.7 908.6,303.0 909.2,301.8 909.5,303.1 909.8,304.1 910.4,302.9 911.0,302.2 911.6,303.5 912.2,300.5 912.5,301.7 912.8,300.4 913.4,300.5 913.9,300.1 914.0,301.1 914.5,299.0 915.1,298.8 915.5,297.8 915.7,299.2 916.4,298.1 917.0,298.3 917.7,296.8 918.4,297.0 918.5,298.1 919.1,296.8 919.8,297.2 920.0,297.0 920.6,296.0 921.3,294.7 921.5,296.6 922.0,295.7 922.7,295.8 923.0,293.5 923.4,293.5 924.0,292.7 924.5,292.9 924.6,293.8 925.1,292.6 925.6,291.4 926.0,290.6 926.1,290.7 926.6,289.2 927.0,288.4 927.5,287.3 927.5,286.3 928.0,286.2 928.5,286.3 929.0,284.7 929.5,284.5 930.1,283.8 930.5,283.8 930.7,285.1 931.2,283.8 931.8,283.1 932.0,281.2 932.4,283.5 933.0,282.3 933.5,282.5 933.7,284.8 934.3,284.7 935.0,282.3 935.7,284.6 936.5,284.1 936.5,283.0 937.3,284.1 938.0,281.9 938.1,282.2 938.9,281.8 939.5,282.0 939.7,283.7 940.5,281.6 941.0,281.6 941.4,281.8 942.2,282.7 942.5,282.2 943.0,283.3 943.8,281.9 944.0,281.4 944.6,282.1 945.5,282.7 945.5,281.9 946.3,283.1 947.0,284.5 947.1,282.4 947.9,283.2 948.5,284.5 948.7,282.8 949.5,282.8 950.0,282.7 950.3,284.1 951.0,284.4 951.5,284.0 951.7,284.3 952.3,285.5 952.9,285.4 953.0,283.7 953.4,285.0 954.0,285.4 954.5,286.2 954.6,285.5 955.1,285.5 955.7,285.9 956.0,285.0 956.3,286.6 957.0,286.5 957.5,287.6 957.7,286.5 958.5,287.4 959.0,287.1 959.4,287.2 960.2,289.1 960.5,288.2 961.1,289.3 962.0,288.4 962.0,289.4 962.8,288.4 963.5,289.7 963.6,289.8 964.4,291.0 965.0,291.1 965.5,291.3 965.9,292.3 966.3,292.4 966.5,292.9 966.6,293.1 966.8,293.2 967.1,293.5 967.4,294.3 967.8,294.1 968.0,294.8 968.3,295.6 969.0,295.7 969.5,294.7 969.8,294.0 970.8,295.2 971.0,295.1 971.8,296.2 972.5,294.9 972.9,295.1 974.0,295.9 974.1,294.8 975.3,295.0 975.5,296.7 976.6,296.4 977.0,295.6 977.8,295.3 978.5,294.1 978.9,295.5 980.0,295.0 981.0,295.2 981.5,294.5 982.1,294.9 983.0,294.8 983.1,295.2 984.1,296.2 984.5,295.3 985.1,293.4 986.0,294.1 986.0,293.5 987.0,294.2 987.5,295.4 988.0,295.3 989.0,294.4 989.0,295.2 990.0,294.3 990.5,293.7 991.0,293.7 992.0,294.3 993.0,296.4 993.5,294.0 994.0,296.3 995.0,296.5 996.0,295.2 996.5,295.4 997.0,294.9 998.0,295.5 999.0,296.1 999.5,295.5 1000.0,296.3 1001.0,296.5 1001.0,295.7 1002.0,295.6 1002.5,295.2 1003.0,295.6 1004.0,294.1 1004.0,295.5 1005.0,295.2 1005.5,294.2 1005.9,296.8 1006.9,293.8 1007.0,293.9 1007.9,294.7 1008.5,292.6 1009.0,293.5 1010.0,292.6 1011.0,292.8 1011.5,293.4 1012.1,293.7 1013.0,294.1 1013.1,293.8 1014.2,293.9 1014.5,293.2 1015.2,292.1 1016.0,293.2 1016.3,291.7 1017.4,291.1 1017.5,292.8 1018.5,291.7 1019.0,290.9 1019.6,290.9 1020.5,290.4 1020.8,288.6 1022.0,288.5 1022.0,287.8 1023.2,287.6 1023.5,286.8 1024.5,287.1 1025.0,286.1 1025.8,284.4 1026.5,284.2 1027.2,282.8 1028.0,282.6 1028.5,282.4 1029.5,281.0 1029.8,279.5 1031.0,278.9 1031.0,279.4 1032.2,277.7 1032.5,277.8 1033.3,275.4 1034.0,275.3 1034.3,274.2 1035.3,273.1 1035.5,272.9 1036.3,271.8 1037.0,269.9 1037.2,270.0 1038.0,267.8 1038.5,266.8 1038.9,266.9 1039.7,265.0 1040.0,263.8 1040.6,263.0 1041.4,261.7 1041.5,262.2 1042.3,260.4 1043.0,259.0 1043.2,257.5 1044.1,256.5 1044.5,256.0 1045.1,254.9 1046.0,253.1 1046.0,252.8 1046.9,251.8 1047.5,250.5 1047.8,249.2 1048.7,247.0 1049.0,247.7 1049.6,245.4 1050.5,244.2 1050.5,244.4 1051.3,241.6 1052.0,240.5 1052.1,240.0 1052.9,238.5 1053.5,236.9 1053.6,237.2 1054.4,234.8 1055.0,233.0 1055.1,233.2 1055.8,230.9 1056.5,229.1 1056.5,229.8 1057.1,227.2 1057.8,225.6 1058.0,225.1 1058.4,223.7 1059.0,221.8 1059.5,221.4 1059.6,220.6 1060.1,219.1 1060.6,217.7 1061.0,216.3 1061.1,216.0 1061.6,214.9 1062.1,214.2 1062.5,212.7 1062.7,212.3 1063.2,210.3 1063.8,209.7 1064.0,208.8 1064.4,208.9 1065.1,207.3 1065.5,206.8 1065.8,206.3 1066.5,205.1 1067.0,203.8 1067.2,204.8 1067.9,202.8 1068.5,202.2 1068.6,202.7 1069.3,201.8 1070.0,202.1 1070.0,202.7 1070.6,201.9 1071.2,201.8 1071.5,201.7 1071.8,202.4 1072.4,200.5 1072.9,202.6 1073.0,201.8 1073.5,202.1 1074.0,203.5 1074.5,203.9 1074.6,204.5 1075.2,205.6 1075.8,204.9 1076.0,206.3 1076.4,207.9 1077.1,208.5 1077.5,209.5 1077.8,209.5 1078.5,210.3 1079.0,211.5 1079.2,212.7 1080.0,214.4 1080.5,215.0 1080.7,215.7 1081.5,217.5 1082.0,218.1 1082.2,219.0 1082.9,221.3 1083.5,223.0 1084.1,223.7 1084.7,225.7 1085.0,225.7 1085.2,226.2 1085.8,227.1 1086.3,229.5 1086.5,229.5 1086.8,231.2 1087.3,232.0 1087.8,233.4 1088.0,233.3 1088.4,235.4 1088.9,236.5 1089.4,238.3 1089.5,238.1 1090.0,240.6 1090.5,242.6 1091.0,244.2 1091.0,244.6 1091.6,246.8 1092.1,249.1 1092.5,250.4 1092.7,251.4 1093.2,252.9 1093.8,254.6 1094.0,255.4 1094.3,255.6 1094.9,257.5 1095.4,259.4 1095.5,259.3 1096.0,259.7 1096.6,261.2 1097.0,260.7 1097.1,261.8 1097.7,263.0 1098.3,264.0 1098.5,263.6 1098.8,264.9 1099.4,266.3 1099.9,266.4 1100.0,267.1 1100.4,267.2 1100.9,268.4 1101.4,270.5 1101.5,270.7 1101.9,271.8 1102.3,272.9 1102.8,274.3 1103.0,275.2 1103.3,276.3 1103.8,277.0 1104.3,277.6 1104.5,279.2 1104.8,279.6 1105.3,280.7 1105.9,281.5 1106.0,282.7 1106.5,282.5 1107.1,283.6 1107.5,283.1 1107.7,284.0 1108.3,284.8 1108.9,285.9 1109.0,286.3 1109.5,286.3 1110.1,288.5 1110.5,287.3 1110.7,287.9 1111.3,289.0 1111.8,288.8 1112.0,290.0 1112.4,290.5 1112.9,290.6 1113.5,292.6 1113.5,291.4 1114.0,292.0 1114.6,291.5 1115.0,291.2 1115.2,292.1 1115.8,292.6 1116.5,292.7 1117.2,293.8 1118.0,290.9 1118.0,292.0 1118.8,291.3 1119.5,293.8 1119.7,292.1 1120.5,291.8 1121.0,291.1 1121.4,292.7 1122.2,291.2 1122.5,291.7 1123.0,289.6 1123.7,292.2 1124.0,291.4 1124.4,291.6 1125.0,292.2 1125.4,291.2 1125.5,291.2 1125.8,292.1 1126.2,292.2 1126.6,292.1 1126.9,292.6 1127.0,292.2 1127.3,293.4 1127.8,293.8 1128.5,293.1 1128.5,294.8 1129.2,291.7 1130.0,292.7 1130.1,294.4 1131.2,292.2 1131.5,291.1 1132.3,293.5 1133.0,292.5 1133.6,290.9 1134.5,292.2 1134.8,290.5 1136.0,289.8 1136.2,290.7 1137.5,289.9 1137.5,289.4 1138.7,289.3 1139.0,288.7 1139.9,289.0 1140.5,288.5 1141.0,288.7 1142.0,287.0 1142.0,286.4 1143.0,285.6 1143.5,285.6 1143.9,286.2 1144.7,284.7 1145.0,283.5 1145.6,283.6 1146.4,281.3 1146.5,282.3 1147.3,280.5 1148.0,280.1 1148.1,279.9 1148.9,278.3 1149.5,277.9 1149.8,276.8 1150.7,276.3 1151.0,276.6 1151.6,277.8 1152.5,274.8 1152.6,274.3 1153.5,272.6 1154.0,273.4 1154.4,271.2 1155.4,270.7 1155.5,271.3 1156.2,269.5 1157.0,270.4 1157.1,270.0 1157.9,268.1 1158.5,267.4 1158.6,266.8 1159.2,266.0 1159.8,266.3 1160.0,266.1 1160.3,265.6 1160.8,264.9 1161.2,263.8 1161.5,263.9 1161.7,262.7 1162.1,262.9 1162.5,263.0 1163.0,262.2 1163.0,261.3 1163.5,260.6 1164.0,260.8 1164.5,260.5 1164.6,258.5 1165.2,258.4 1165.8,258.1 1166.0,258.3 1166.4,256.7 1167.0,256.7 1167.5,255.4 1167.6,256.7 1168.2,254.7 1168.8,253.3 1169.0,252.7 1169.4,252.4 1170.0,250.7 1170.5,248.8 1170.6,248.9 1171.3,246.6 1171.9,244.9 1172.0,244.4 1172.5,242.7 1173.2,240.8 1173.5,239.6 1173.8,238.9 1174.5,236.8 1175.0,234.7 1175.1,234.0 1175.8,232.2 1176.5,229.2 1176.5,229.0 1177.1,227.3 1177.7,224.7 1178.0,223.6 1178.3,221.9 1179.0,219.0 1179.5,217.1 1179.7,216.7 1180.4,213.6 1181.0,211.6 1181.2,210.7 1182.1,208.0 1182.5,207.5 1183.1,205.7 1184.0,202.8 1184.2,202.3 1185.5,199.0 1185.5,199.3 1186.8,195.1 1187.0,195.0 1188.3,191.0 1188.5,190.7 1189.8,188.2 1190.0,187.8 1191.3,184.2 1191.5,183.9 1192.7,182.2 1193.0,181.2 1194.2,179.3 1194.5,179.7 1195.6,178.4 1196.0,179.1 1196.9,178.6 1197.5,178.0 1198.2,178.8 1199.0,180.3 1199.4,180.4 1200.5,183.3 1200.7,184.3 1201.9,187.3 1202.0,188.3 1203.1,191.9 1203.5,193.4 1204.2,196.4 1205.0,199.4 1205.3,200.9 1206.3,204.7 1206.5,205.4 1207.3,208.4 1208.0,211.6 1208.1,211.7 1208.8,213.8 1209.5,216.2 1209.5,216.3 1210.0,218.4 1210.5,220.4 1210.9,222.7 1211.0,222.4 1211.3,224.1 1211.6,225.6 1211.9,227.0 1212.2,228.5 1212.5,229.9 1212.7,231.2 1212.9,232.2 1212.9,232.8 1212.9,233.4 1212.9,233.9 1213.0,234.6 1213.1,235.4 1213.3,236.6 1213.7,238.1 1214.0,239.5 1214.2,240.0 1214.9,242.5 1215.5,245.0 1215.8,246.0 1216.8,250.0 1217.0,249.8 1217.9,253.4 1218.5,255.9 1219.0,257.3 1220.0,260.8 1220.3,262.3 1221.5,266.2 1221.5,265.7 1222.8,270.3 1223.0,270.9 1224.0,273.7 1224.5,274.9 1225.2,276.8 1226.0,278.4 1226.3,279.3 1227.5,282.4 1227.5,282.2 1228.6,285.3 1229.0,285.1 1229.8,285.8 1230.5,288.0 1230.9,289.0 1232.0,290.9 1232.1,291.0 1233.3,292.5 1233.5,293.9 1234.6,294.5 1235.0,295.7 1236.0,296.6 1236.5,296.8 1237.4,299.5 1238.0,298.1 1238.9,300.1 1239.5,301.6 1240.4,302.3 1241.0,303.6 1242.0,304.3 1242.5,304.6 1243.7,307.5 1244.0,306.3 1245.3,307.7 1245.5,307.3 1247.0,309.0 1247.1,310.0 1248.5,311.2 1248.9,311.2 1250.0,311.7 1250.7,313.2 1251.5,312.2 1252.6,314.1 1253.0,314.4 1254.5,315.2 1256.0,317.0 1256.5,316.8 1257.5,317.3 1258.6,320.0 1259.0,319.5 1260.5,320.9 1260.7,320.1 1262.0,321.6 1262.9,322.0 1263.5,322.7 1265.0,324.5 1265.1,322.6 1266.5,323.7 1267.4,323.9 1268.0,321.5 1269.5,323.9 1269.6,325.1 1271.0,326.3 1271.9,325.7 1272.5,327.4 1274.0,328.1 1274.2,326.8 1275.5,328.8 1276.5,329.5 1277.0,328.6 1278.5,327.8 1278.8,330.0 1280.0,328.9 1281.1,329.1 1281.5,329.6 1283.0,329.4 1283.5,330.9 1284.5,330.8 1285.9,331.5 1286.0,330.9 1287.5,330.0 1288.2,330.6 1289.0,331.7 1290.5,330.7 1290.6,333.7 1292.0,331.0 1293.0,330.8 1293.5,332.4 1295.0,332.2 1295.4,331.5 1296.5,331.4 1297.7,332.0 1298.0,332.4 1299.5,332.4 1300.0,331.4 1301.0,332.1 1302.3,332.4 1302.5,332.4 1304.0,328.8 1304.6,330.8 1305.5,330.8 1307.0,331.1 1307.0,331.5 1308.5,332.0 1309.3,331.6 1310.0,330.8 1311.5,330.7 1311.6,332.3 1313.0,329.9 1313.9,330.6 1314.5,331.6 1316.0,330.3 1316.0,328.1 1317.5,330.0 1318.1,329.2 1319.0,329.3 1320.1,330.1 1320.5,329.6 1322.0,328.7 1323.5,329.4 1323.7,329.0 1325.0,328.3 1325.2,328.5 1326.5,328.0 1326.6,327.5 1327.8,327.0 1328.0,327.3 1329.1,326.2 1329.5,325.8 1330.3,327.7 1331.0,326.2 1331.5,326.3 1332.5,326.0 1332.8,326.1 1334.0,326.1 1334.2,326.1 1335.5,325.4 1335.8,326.9 1337.0,325.6 1337.5,327.2 1338.5,324.8 1339.3,325.7 1340.0,327.7 1341.2,326.9 1341.5,326.6 1343.0,327.9 1343.1,326.7 1344.5,328.1 1345.1,326.3 1346.0,328.1 1347.1,328.3 1347.5,329.4 1349.0,330.2 1349.2,328.8 1350.5,331.4 1351.2,329.8 1352.0,328.8 1353.3,329.0 1353.5,332.4 1355.0,331.5 1355.3,331.2 1356.5,331.5 1357.4,331.5 1358.0,333.8 1359.5,333.2 1359.5,334.8 1361.0,333.7 1361.6,332.2 1362.5,335.2 1363.8,334.8 1364.0,335.0 1365.5,337.1 1366.0,335.8 1367.0,337.4 1368.1,336.9 1368.5,336.5 1370.0,338.1 1370.2,337.3 1371.5,339.3 1372.3,339.4 1373.0,338.9 1374.2,339.9 1374.5,339.9 1376.0,339.7 1376.1,340.8 1377.5,340.3 1377.8,341.1 1379.0,340.1 1379.3,341.1 1380.5,341.7 1380.8,340.8 1382.0,341.4 1382.1,341.4 1383.4,342.8 1383.5,341.5 1384.8,342.8 1385.0,343.8 1386.2,343.0 1386.5,341.3 1387.7,343.0 1388.0,343.9 1389.4,342.8 1389.5,344.1 1391.0,343.7 1391.3,343.6 1392.5,343.0 1393.5,342.8 1394.0,343.1 1395.5,343.3 1396.0,343.8 1397.0,343.6 1398.5,343.0 1398.8,343.3 1400.0,343.5 1401.5,341.7 1401.6,342.4 1403.0,342.3 1404.5,342.8 1404.6,342.7 1406.0,342.7 1407.4,342.1 1407.5,343.4 1409.0,343.0 1410.2,341.2 1410.5,342.7 1412.0,341.6 1412.7,344.1 1413.5,342.2 1414.9,342.2 1415.0,342.6 1416.5,342.3 1416.7,342.5 1418.0,343.9 1418.1,342.7 1419.2,343.3 1419.5,343.6 1420.0,341.7 1420.6,344.2 1421.0,343.3 1421.0,343.6 1421.4,342.1 1421.7,343.6 1422.0,343.5 1422.5,343.1 1422.5,345.2 1423.0,344.2 1423.6,344.1 1424.0,344.7 1424.3,345.4 1424.9,346.1 1425.5,346.5 1425.5,346.9 1426.1,347.7 1426.8,346.9 1427.0,347.6 1427.4,347.8 1428.0,349.1 1428.5,350.4 1428.7,350.0 1429.3,349.4 1429.9,350.3 1430.0,351.4 1430.5,350.5 1431.0,351.1 1431.5,351.6 1431.6,349.9 1432.1,352.3 1432.7,352.2 1433.0,352.4 1433.3,351.2 1434.0,351.6 1434.5,351.9 1434.8,352.7 1435.7,352.8 1436.0,352.9 1436.7,354.5 1437.5,354.3 1437.8,352.7 1439.0,353.1 1439.0,355.1 1440.3,353.7 1440.5,355.2 1441.6,355.7 1442.0,353.9 1443.0,354.3 1443.5,354.8 1444.3,354.1 1445.0,354.1 1445.7,354.7 1446.5,355.9 1447.0,354.8 1448.0,355.0 1448.3,354.8 1449.5,353.9 1449.6,356.5 1450.9,352.9 1451.0,354.4 1452.2,355.3 1452.5,353.5 1453.5,355.1 1454.0,355.5 1454.8,353.5 1455.5,354.2 1456.1,352.9 1457.0,354.1 1457.3,353.6 1458.5,353.4 1458.6,354.4 1459.8,353.4 1460.0,354.1 1461.0,353.3 1461.5,351.6 1462.1,352.8 1463.0,352.9 1463.2,351.1 1464.3,353.4 1464.5,352.3 1465.4,352.4 1466.0,351.2 1466.4,352.1 1467.4,352.1 1467.5,351.6 1468.4,351.8 1469.0,349.8 1469.4,352.9 1470.5,350.5 1470.5,349.6 1471.5,351.4" fill="none" stroke="#ff0000" stroke-width="4.4" stroke-linejoin="round" stroke-linecap="round"/>
<polyline points="836.5,398.0 836.7,395.3 836.8,392.6 837.0,390.1 837.1,387.5 837.3,385.1 837.4,382.3 837.6,379.6 837.7,376.5 837.9,373.4 838.0,370.0 838.1,366.3 838.2,362.3 838.2,358.1 838.3,353.8 838.3,349.3 838.4,344.7 838.5,340.2 838.7,335.7 838.9,331.2 839.2,327.0 839.5,323.9 839.6,322.7 840.1,318.4 840.7,314.2 841.0,311.9 841.3,309.8 841.9,305.8 842.5,302.3 842.6,301.6 843.2,297.5 843.8,293.8 844.0,292.6 844.4,289.8 844.8,286.3 845.1,283.1 845.4,279.8 845.5,278.9 845.7,276.8 845.8,274.0 846.0,271.2 846.2,268.5 846.3,266.0 846.5,263.4 846.7,261.2 847.0,258.7 847.3,256.2 847.7,253.6 848.0,251.4 848.4,249.1 848.5,248.5 848.8,246.9 849.2,244.4 849.6,242.4 850.0,240.4 850.1,240.0 850.5,237.9 851.0,236.2 851.5,234.3 851.5,233.8 852.0,232.5 852.5,230.5 853.0,228.5 853.1,228.1 853.7,226.4 854.3,224.9 854.5,223.8 854.9,222.5 855.5,221.2 856.0,219.0 856.1,219.5 856.7,218.2 857.3,216.3 857.5,216.1 858.0,214.8 858.7,213.4 859.0,212.6 859.4,211.3 860.2,210.1 860.5,209.5 860.9,209.3 861.6,208.2 862.0,206.9 862.3,205.9 862.9,204.8 863.5,204.0 864.0,203.7 864.5,202.4 864.9,201.3 865.0,200.9 865.3,201.0 865.7,200.0 866.1,199.3 866.5,199.0 866.5,199.9 867.0,198.4 867.5,199.9 868.0,199.5 868.1,198.4 868.8,199.4 869.5,199.0 869.5,198.6 870.2,199.6 871.0,200.0 871.1,200.9 871.9,201.6 872.5,202.6 872.7,203.0 873.6,201.8 874.0,204.2 874.4,203.5 875.3,205.6 875.5,205.2 876.1,206.5 876.9,208.1 877.0,206.3 877.7,208.2 878.5,208.9 878.6,207.8 879.4,210.3 880.0,210.5 880.2,210.4 881.1,211.2 881.5,214.1 881.9,212.2 882.6,212.0 883.0,212.9 883.4,213.6 884.1,214.1 884.5,214.6 884.8,214.1 885.4,215.7 886.0,215.2 886.0,214.5 886.6,215.2 887.2,215.8 887.5,216.9 887.8,216.7 888.3,216.1 888.9,216.6 889.0,216.8 889.4,218.4 890.0,216.1 890.5,217.2 890.6,217.4 891.2,215.9 891.8,216.9 892.0,216.8 892.4,216.2 892.9,217.1 893.5,217.4 893.5,217.4 894.1,216.1 894.6,216.3 895.0,217.9 895.1,215.0 895.6,215.9 896.0,216.1 896.4,215.2 896.5,215.5 896.7,214.9 897.0,214.9 897.3,214.8 897.6,213.6 898.0,213.4 898.0,213.2 898.3,212.6 898.8,212.4 899.3,211.2 899.5,212.4 899.9,212.9 900.6,212.5 901.0,211.9 901.3,210.0 902.0,211.5 902.5,209.5 902.8,209.8 903.6,210.9 904.0,208.4 904.4,209.6 905.2,208.6 905.5,208.1 906.0,207.2 906.8,207.6 907.0,206.8 907.5,207.4 908.3,206.8 908.5,204.9 909.1,204.9 909.8,204.2 910.0,203.5 910.6,203.0 911.3,202.9 911.5,202.5 912.1,201.0 912.8,201.0 913.0,201.5 913.6,199.8 914.3,199.3 914.5,200.8 915.1,200.2 915.8,197.5 916.0,197.5 916.6,198.3 917.4,196.6 917.5,197.2 918.1,196.6 918.9,196.8 919.0,194.4 919.6,194.2 920.3,194.4 920.5,195.9 921.0,194.7 921.7,193.1 922.0,194.4 922.3,194.3 922.9,193.1 923.5,192.6 923.5,193.1 924.1,193.2 924.6,192.0 925.0,191.9 925.1,191.4 925.7,190.7 926.2,189.9 926.5,190.4 926.7,189.8 927.3,189.4 927.9,189.8 928.0,189.4 928.4,189.3 929.0,187.1 929.5,188.2 929.6,187.3 930.1,186.7 930.7,186.2 931.0,187.5 931.3,187.0 931.9,185.4 932.4,184.7 932.5,185.6 933.0,185.0 933.6,186.6 934.0,183.8 934.1,183.4 934.6,184.7 935.2,184.8 935.5,184.9 935.7,185.4 936.2,186.6 936.8,184.4 937.0,184.3 937.4,183.2 938.0,185.1 938.5,185.7 938.6,184.7 939.3,186.0 939.9,185.1 940.0,186.4 940.6,185.5 941.3,184.5 941.5,184.9 942.1,184.3 942.8,184.3 943.0,186.1 943.6,186.8 944.4,187.9 944.5,186.3 945.2,186.3 946.0,185.9 946.9,187.9 947.5,187.6 947.8,186.9 948.7,188.3 949.0,188.3 949.7,186.5 950.5,189.0 950.7,188.6 951.7,188.5 952.0,188.6 952.7,190.7 953.5,190.9 953.6,191.2 954.5,189.1 955.0,189.8 955.4,191.2 956.2,190.0 956.5,190.5 957.0,190.0 957.7,193.2 958.0,192.8 958.4,192.6 959.1,192.9 959.5,192.7 959.8,192.9 960.5,194.1 961.0,193.5 961.2,195.1 962.0,194.3 962.5,194.3 962.8,196.2 963.7,195.6 964.0,196.4 964.6,196.1 965.5,195.4 965.5,197.5 966.5,196.7 967.0,198.9 967.5,197.3 968.5,197.6 968.5,199.3 969.5,200.0 970.0,200.0 970.4,199.2 971.3,201.3 971.5,199.3 972.2,200.4 973.0,200.2 973.0,200.6 973.8,201.6 974.5,200.2 974.6,201.2 975.4,201.0 976.0,198.8 976.1,199.2 976.9,199.5 977.5,199.0 977.6,199.7 978.3,197.6 978.9,199.6 979.0,199.7 979.6,198.7 980.2,197.7 980.5,199.0 980.8,198.5 981.4,199.7 982.0,199.3 982.0,200.0 982.5,199.3 983.0,201.1 983.5,198.0 983.6,199.1 984.1,200.5 984.6,198.7 985.0,200.6 985.2,198.9 985.8,199.6 986.3,198.5 986.5,198.6 986.8,198.6 987.4,197.7 987.9,196.8 988.0,198.1 988.5,196.3 989.0,195.1 989.5,195.8 989.6,195.6 990.2,195.5 990.8,195.9 991.0,193.4 991.4,195.2 992.0,195.3 992.5,194.4 992.6,194.7 993.2,192.3 993.9,194.6 994.0,196.5 994.5,193.9 995.2,195.2 995.5,196.0 995.9,196.4 996.6,197.5 997.0,194.5 997.4,196.1 998.2,196.8 998.5,194.8 999.2,195.8 1000.0,197.3 1000.1,196.7 1001.1,195.8 1001.5,193.0 1002.2,194.9 1003.0,195.0 1003.2,194.4 1004.2,194.2 1004.5,196.8 1005.1,193.8 1005.9,192.8 1006.0,193.8 1006.7,193.0 1007.3,192.8 1007.5,192.9 1007.9,193.4 1008.4,192.8 1008.8,191.4 1009.0,192.2 1009.2,192.5 1009.6,191.5 1010.0,192.4 1010.4,191.8 1010.5,190.5 1010.9,191.2 1011.4,191.9 1012.0,191.0 1012.0,189.9 1012.6,190.0 1013.2,188.3 1013.5,187.5 1013.9,188.4 1014.5,187.5 1015.0,187.1 1015.2,186.6 1015.9,186.1 1016.5,184.9 1016.6,185.5 1017.2,185.1 1017.9,184.0 1018.0,184.5 1018.5,182.2 1019.2,182.5 1019.5,184.0 1019.8,184.1 1020.4,182.6 1021.0,182.0 1021.0,181.1 1021.6,182.1 1022.3,182.1 1022.5,180.1 1022.9,181.6 1023.7,181.1 1024.0,180.9 1024.5,179.4 1025.4,180.3 1025.5,178.6 1026.3,180.8 1027.0,179.4 1027.3,178.2 1028.3,180.0 1028.5,179.8 1029.4,177.9 1030.0,180.1 1030.5,177.2 1031.5,177.8 1031.6,178.4 1032.6,175.2 1033.0,177.1 1033.7,175.8 1034.5,174.9 1034.7,174.1 1035.7,173.5 1036.0,172.3 1036.7,171.2 1037.5,170.0 1037.7,169.3 1038.7,168.4 1039.0,166.7 1039.7,165.3 1040.5,163.8 1040.7,163.4 1041.7,161.5 1042.0,160.8 1042.6,159.0 1043.5,156.9 1043.5,157.0 1044.4,155.4 1045.0,154.1 1045.2,153.1 1046.0,150.9 1046.5,151.5 1046.8,150.5 1047.5,148.7 1048.0,147.7 1048.2,146.8 1049.0,145.1 1049.5,144.0 1049.7,143.7 1050.4,141.8 1051.0,139.8 1051.1,140.0 1051.8,138.2 1052.5,135.7 1052.5,135.7 1053.3,132.8 1054.0,130.7 1054.0,130.7 1054.7,127.8 1055.5,124.9 1055.5,125.2 1056.2,122.3 1056.9,119.8 1057.0,119.2 1057.6,116.9 1058.4,113.9 1058.5,113.1 1059.1,111.1 1059.8,108.1 1060.0,107.7 1060.6,105.1 1061.4,101.9 1061.5,101.8 1062.2,99.1 1063.0,95.9 1063.0,95.7 1063.7,92.7 1064.5,89.8 1064.5,89.7 1065.2,86.9 1065.9,84.2 1066.0,83.7 1066.5,82.4 1067.1,79.7 1067.5,78.1 1067.6,77.6 1068.1,75.9 1068.6,74.3 1069.0,72.6 1069.1,72.2 1069.5,71.4 1069.9,69.5 1070.4,69.0 1070.5,68.7 1070.8,68.3 1071.3,67.8 1071.8,66.4 1072.0,65.7 1072.3,64.9 1072.8,64.6 1073.3,64.9 1073.5,63.1 1073.7,64.8 1074.2,64.6 1074.7,65.2 1075.0,64.4 1075.2,64.8 1075.7,64.2 1076.2,64.6 1076.5,63.7 1076.7,65.3 1077.2,66.7 1077.7,65.9 1078.0,66.3 1078.2,65.4 1078.7,67.5 1079.1,66.8 1079.5,68.1 1079.6,67.9 1080.1,68.3 1080.6,70.1 1081.0,70.8 1081.1,71.1 1081.6,72.6 1082.1,74.1 1082.5,75.6 1082.6,76.1 1083.1,77.9 1083.5,80.2 1084.0,82.1 1084.0,82.1 1084.5,84.6 1085.0,86.9 1085.5,89.3 1085.5,89.5 1086.0,91.3 1086.5,93.9 1087.0,95.9 1087.0,96.2 1087.5,98.6 1088.0,100.8 1088.5,103.4 1088.5,104.0 1088.9,106.2 1089.4,108.7 1089.9,111.1 1090.0,112.0 1090.4,113.6 1090.9,115.8 1091.4,118.6 1091.5,119.0 1091.8,120.4 1092.3,122.9 1092.7,124.9 1093.0,126.2 1093.2,127.0 1093.7,128.9 1094.2,131.5 1094.5,132.8 1094.7,133.3 1095.2,135.5 1095.8,138.2 1096.0,138.7 1096.4,140.4 1097.1,143.0 1097.5,144.3 1097.8,144.9 1098.5,148.0 1099.0,149.6 1099.3,150.6 1100.1,153.4 1100.5,154.5 1100.8,155.6 1101.6,158.3 1102.0,159.1 1102.4,160.7 1103.1,163.0 1103.5,163.9 1103.8,165.2 1104.5,167.1 1105.0,168.1 1105.2,169.4 1105.9,171.3 1106.5,173.0 1106.7,173.4 1107.4,175.7 1108.0,177.1 1108.1,177.0 1108.9,179.1 1109.5,180.5 1109.7,180.3 1110.5,181.8 1111.0,182.5 1111.4,182.9 1112.3,184.6 1112.5,185.3 1113.2,186.6 1114.0,186.9 1114.1,186.9 1115.1,187.8 1115.5,188.2 1116.1,187.3 1117.0,188.6 1117.1,188.4 1118.1,188.5 1118.5,188.4 1119.1,188.6 1120.0,189.1 1120.2,188.4 1121.3,190.2 1121.5,189.8 1122.4,190.2 1123.0,190.5 1123.5,191.0 1124.5,190.0 1124.7,190.4 1125.8,189.2 1126.0,188.7 1127.0,188.9 1127.5,192.0 1128.2,188.9 1129.0,190.8 1129.4,191.7 1130.5,189.6 1130.5,191.4 1131.7,191.0 1132.0,190.1 1132.9,190.6 1133.5,188.8 1134.0,187.5 1135.0,187.6 1135.1,186.8 1136.3,185.2 1136.5,185.0 1137.4,186.3 1138.0,183.9 1138.6,183.6 1139.5,182.1 1139.7,182.3 1141.0,180.7 1141.0,180.5 1142.2,178.6 1142.5,178.1 1143.5,177.3 1144.0,177.3 1144.9,177.2 1145.5,175.9 1146.3,175.4 1147.0,173.7 1147.7,172.5 1148.5,170.8 1149.2,170.6 1150.0,168.4 1150.7,168.5 1151.5,168.4 1152.2,166.7 1153.0,166.0 1153.7,164.2 1154.5,162.5 1155.2,161.9 1156.0,160.7 1156.7,160.3 1157.5,159.3 1158.2,156.9 1159.0,155.6 1159.7,154.5 1160.5,152.9 1161.2,151.2 1162.0,150.2 1162.7,149.0 1163.5,147.3 1164.2,145.3 1165.0,144.1 1165.7,142.0 1166.5,141.3 1167.2,139.1 1168.0,137.5 1168.6,136.1 1169.5,134.0 1170.1,132.6 1171.0,130.1 1171.5,130.2 1172.5,127.1 1172.8,126.4 1174.0,123.9 1174.1,122.9 1175.4,119.6 1175.5,119.1 1176.7,116.2 1177.0,114.9 1177.9,112.3 1178.5,110.2 1179.1,108.6 1180.0,106.0 1180.3,104.3 1181.4,101.2 1181.5,100.8 1182.5,97.7 1183.0,95.6 1183.6,94.5 1184.5,91.2 1184.6,91.0 1185.6,87.8 1186.0,86.1 1186.5,84.5 1187.5,80.9 1187.5,81.0 1188.3,78.0 1189.0,75.7 1189.2,75.0 1190.0,72.0 1190.5,70.9 1190.8,69.5 1191.6,66.6 1192.0,65.6 1192.3,64.8 1193.0,63.4 1193.5,62.4 1193.7,62.0 1194.3,62.7 1194.8,61.2 1195.0,60.8 1195.4,60.8 1195.9,60.9 1196.4,62.3 1196.5,62.0 1196.9,62.8 1197.4,62.0 1197.9,64.6 1198.0,65.0 1198.5,66.6 1199.1,67.9 1199.5,68.9 1199.7,70.3 1200.3,72.6 1201.0,75.3 1201.0,75.7 1201.6,78.9 1202.2,82.3 1202.5,83.6 1202.9,85.5 1203.6,89.7 1204.0,91.1 1204.3,93.1 1205.1,96.8 1205.5,99.3 1205.9,101.2 1206.7,105.8 1207.0,107.1 1207.6,110.4 1208.5,115.4 1208.5,115.1 1209.4,120.6 1210.0,123.8 1210.3,125.4 1211.3,130.5 1211.5,131.8 1212.2,135.6 1213.0,139.4 1213.1,139.8 1214.0,143.9 1214.5,146.0 1214.9,147.8 1215.7,151.6 1216.0,153.0 1216.5,155.2 1217.2,158.7 1217.5,159.7 1218.0,161.9 1218.9,165.1 1219.0,165.5 1219.7,168.0 1220.5,170.5 1220.7,170.4 1221.7,174.0 1222.0,173.9 1222.8,176.5 1223.5,177.7 1224.0,179.2 1225.0,180.5 1225.3,180.6 1226.5,183.5 1226.7,183.3 1228.0,185.2 1228.1,185.3 1229.5,187.7 1229.5,187.7 1231.0,189.1 1231.1,188.2 1232.5,190.4 1232.6,190.8 1234.0,193.3 1234.2,192.6 1235.5,193.6 1235.8,194.7 1237.0,194.9 1237.4,195.3 1238.5,196.3 1239.0,195.6 1240.0,198.0 1240.7,198.1 1241.5,198.0 1242.5,197.9 1243.0,199.3 1244.2,200.9 1244.5,199.4 1246.0,199.7 1246.0,200.9 1247.5,199.9 1247.8,199.5 1249.0,201.4 1249.6,201.5 1250.5,202.2 1251.4,202.3 1252.0,203.2 1253.2,203.2 1253.5,203.0 1255.0,203.8 1256.5,205.3 1256.8,205.7 1258.0,206.1 1258.5,206.1 1259.5,203.1 1260.3,205.3 1261.0,206.2 1262.1,207.0 1262.5,205.6 1263.9,208.6 1264.0,207.7 1265.5,207.4 1265.6,208.1 1267.0,208.1 1267.4,207.8 1268.5,209.3 1269.2,208.6 1270.0,208.0 1270.9,209.0 1271.5,209.6 1272.7,209.1 1273.0,211.2 1274.5,209.6 1274.5,212.1 1276.0,211.7 1276.3,210.2 1277.5,211.5 1278.1,212.6 1279.0,211.6 1280.0,211.0 1280.5,212.2 1281.8,214.2 1282.0,211.2 1283.5,213.3 1283.6,212.9 1285.0,213.1 1285.4,212.9 1286.5,213.2 1287.0,214.5 1288.0,214.4 1288.6,213.1 1289.5,215.5 1290.0,213.1 1291.0,215.1 1291.3,214.7 1292.4,215.8 1292.5,215.1 1293.4,216.0 1294.0,215.2 1294.3,216.1 1295.2,215.8 1295.5,217.4 1296.0,215.0 1296.9,216.8 1297.0,216.1 1297.9,215.9 1298.5,215.2 1298.9,216.1 1300.0,214.3 1300.1,214.3 1301.4,216.0 1301.5,214.0 1302.9,216.2 1303.0,214.7 1304.4,214.8 1304.5,214.6 1305.9,214.4 1306.0,213.8 1307.5,213.2 1307.5,213.4 1309.0,213.9 1309.2,214.0 1310.5,213.6 1310.8,212.8 1312.0,211.9 1312.3,210.5 1313.5,212.1 1313.9,212.2 1315.0,210.8 1315.3,211.8 1316.5,211.9 1316.7,210.8 1318.0,211.4 1319.3,210.4 1319.5,208.6 1320.6,209.5 1321.0,209.5 1321.8,210.2 1322.5,208.8 1323.0,209.1 1324.0,208.4 1324.3,209.2 1325.5,209.1 1326.7,209.7 1327.0,209.5 1328.0,208.7 1328.5,208.7 1329.2,208.4 1330.0,208.2 1330.4,209.4 1331.5,205.6 1331.6,207.6 1332.8,207.7 1333.0,208.3 1334.0,206.2 1334.5,207.3 1335.2,207.6 1336.0,206.3 1336.4,204.9 1337.5,206.1 1337.8,205.3 1339.0,206.8 1339.2,205.4 1340.5,207.7 1340.7,206.2 1342.0,205.3 1342.3,205.6 1343.5,205.0 1344.1,206.4 1345.0,207.4 1345.9,205.9 1346.5,206.9 1347.8,205.3 1348.0,206.5 1349.5,208.3 1349.8,205.0 1351.0,207.5 1351.8,207.5 1352.5,204.8 1353.8,205.2 1354.0,205.7 1355.5,207.5 1355.8,206.2 1357.0,206.5 1357.8,207.3 1358.5,206.8 1359.7,206.9 1360.0,206.4 1361.5,207.6 1361.6,205.9 1363.0,208.0 1363.5,206.2 1364.5,205.7 1365.4,207.0 1366.0,206.8 1367.3,204.5 1367.5,206.4 1369.0,204.9 1369.2,205.3 1370.5,206.7 1371.1,205.2 1372.0,206.2 1373.0,205.4 1373.5,207.5 1374.9,205.5 1375.0,204.5 1376.5,204.5 1376.8,204.7 1378.0,205.5 1378.7,205.4 1379.5,206.2 1380.6,205.4 1381.0,205.4 1382.5,205.5 1382.6,205.1 1384.0,205.5 1384.6,205.9 1385.5,205.9 1386.6,204.7 1387.0,203.6 1388.5,204.4 1388.6,205.4 1390.0,202.9 1390.6,204.7 1391.5,205.5 1392.5,204.5 1393.0,204.0 1394.3,206.6 1394.5,206.2 1396.0,204.7 1396.1,206.1 1397.5,205.9 1397.7,203.7 1399.0,207.0 1399.2,203.7 1400.5,204.1 1400.5,203.4 1401.7,204.1 1402.0,202.8 1402.9,203.7 1403.5,204.5 1404.0,203.6 1405.0,202.9 1405.1,204.5 1406.3,202.0 1406.5,203.6 1407.5,202.3 1408.0,202.7 1408.8,202.4 1409.5,202.4 1410.3,202.2 1411.0,201.5 1411.9,201.7 1412.5,202.6 1413.7,202.1 1414.0,201.1 1415.5,201.6 1415.5,201.6 1417.0,202.2 1417.4,202.5 1418.5,202.5 1419.4,201.8 1420.0,202.5 1421.4,201.3 1421.5,200.0 1423.0,202.6 1423.4,201.2 1424.5,201.8 1425.4,201.7 1426.0,203.3 1427.4,201.7 1427.5,203.1 1429.0,202.4 1429.3,201.7 1430.5,201.4 1431.2,203.2 1432.0,203.2 1433.0,203.5 1433.5,204.5 1434.9,203.0 1435.0,203.0 1436.5,202.7 1436.7,202.9 1438.0,202.4 1438.5,201.9 1439.5,204.5 1440.4,201.0 1441.0,202.9 1442.3,203.0 1442.5,202.7 1444.0,201.6 1444.2,202.3 1445.5,202.0 1446.2,201.4 1447.0,202.3 1448.3,201.8 1448.5,201.7 1450.0,202.7 1450.5,201.1 1451.5,202.3 1452.7,201.3 1453.0,202.2 1454.5,201.7 1455.0,201.8 1456.0,200.6 1457.3,200.6 1457.5,200.5 1459.0,201.3 1459.6,201.7 1460.5,201.9 1462.0,200.3 1462.0,200.8 1463.5,199.1 1464.4,198.5 1465.0,199.6 1466.5,199.6 1466.8,198.8 1468.0,198.4 1469.2,200.3 1469.5,199.1 1471.0,198.1 1471.5,199.6" fill="none" stroke="#0000ff" stroke-width="4.4" stroke-linejoin="round" stroke-linecap="round"/>
<rect x="602" y="10" width="136" height="96" fill="#000"/>
<rect x="594.5" y="2.5" width="136" height="96" fill="#fff" stroke="#333" stroke-width="1"/>
<line x1="598.5" y1="25" x2="655" y2="25" stroke="#ff0000" stroke-width="4" stroke-linecap="round"/>
<line x1="598.5" y1="73.5" x2="655" y2="73.5" stroke="#000000" stroke-width="4" stroke-linecap="round"/>
<rect x="1236" y="9.5" width="236.5" height="132.5" fill="#000"/>
<rect x="1228.7" y="2.4" width="237" height="131.2" fill="#fff" stroke="#555" stroke-width="1"/>
<line x1="1231" y1="20.6" x2="1286" y2="20.6" stroke="#000000" stroke-width="4" stroke-linecap="round"/>
<line x1="1231" y1="64.3" x2="1286" y2="64.3" stroke="#ff0000" stroke-width="4" stroke-linecap="round"/>
<line x1="1231" y1="109.3" x2="1286" y2="109.3" stroke="#0000ff" stroke-width="4" stroke-linecap="round"/>
<text transform="matrix(1.0235,0,0,1.0300,62.95,33.79)" font-size="34" font-weight="normal">(a)</text>
<text transform="matrix(0.9733,0,0,1.0057,67.13,75.61)" font-size="30" font-weight="bold">E<tspan font-size="16.5" dy="11">g</tspan><tspan font-size="30" dy="-11"> (A)</tspan></text>
<text transform="matrix(1.0074,0,0,0.9882,204.60,39.10)" font-size="26" font-weight="bold">A: Anatase</text>
<text transform="matrix(0.9885,0,0,0.9893,204.30,71.80)" font-size="26.4" font-weight="bold">R<tspan font-size="22" dy="9.3">S</tspan><tspan font-size="26.4" dy="-9.3">: Rutile (SnO</tspan><tspan font-size="22.5" dy="9.3">2</tspan><tspan font-size="26.4" dy="-9.3">)</tspan></text>
<text transform="matrix(0.9867,0,0,0.9862,663.10,32.54)" font-size="28" font-weight="bold">TiO<tspan font-size="27" dy="9.5">2</tspan></text>
<text transform="matrix(1.0270,0,0,1.0593,660.25,81.37)" font-size="28" font-weight="bold">SnO<tspan font-size="27" dy="9">2</tspan></text>
<text transform="matrix(1.0091,0,0,1.0238,134.40,550.50)" font-size="31" font-weight="bold" text-anchor="middle">200</text>
<text transform="matrix(1.0091,0,0,1.0238,306.90,550.50)" font-size="31" font-weight="bold" text-anchor="middle">400</text>
<text transform="matrix(1.0091,0,0,1.0238,478.90,550.50)" font-size="31" font-weight="bold" text-anchor="middle">600</text>
<text transform="matrix(1.0091,0,0,1.0238,650.90,550.50)" font-size="31" font-weight="bold" text-anchor="middle">800</text>
<text transform="matrix(1.0260,0,0,1.0640,251.77,604.50)" font-size="38" font-weight="bold">Raman shift (cm</text>
<text transform="matrix(0.9389,0,0,1.0400,529.16,582.90)" font-size="24" font-weight="bold">-1</text>
<text transform="matrix(1.0400,0,0,1.0324,548.96,603.74)" font-size="38" font-weight="normal">)</text>
<text transform="matrix(1.0038,0,0,0.9910,26.90,442.79) rotate(-90)" font-size="40" font-weight="bold">Raman intensity (a. u.)</text>
<text transform="matrix(0.9588,0,0,0.9849,171.12,333.18) rotate(-90)" font-size="27" font-weight="bold">E<tspan font-size="27" dy="9">g</tspan><tspan font-size="27" dy="-9"> (A)</tspan></text>
<text transform="matrix(0.9794,0,0,0.9966,309.81,307.30) rotate(-90)" font-size="27" font-weight="bold">B<tspan font-size="27" dy="9.3">1g</tspan><tspan font-size="27" dy="-9.3"> (A)</tspan></text>
<text transform="matrix(0.9765,0,0,0.9874,414.95,295.29) rotate(-90)" font-size="27" font-weight="bold">B<tspan font-size="27" dy="9.3">1g</tspan><tspan font-size="27" dy="-9.3"> (A)</tspan></text>
<text transform="matrix(0.9794,0,0,0.9932,521.21,261.29) rotate(-90)" font-size="27" font-weight="bold">E<tspan font-size="27" dy="9">g</tspan><tspan font-size="27" dy="-9"> (A)</tspan></text>
<text transform="matrix(1.0167,0,0,1.1309,93.98,418.53) rotate(-90)" font-size="26" font-weight="bold">B<tspan font-size="19.4" dy="9.2">1g</tspan><tspan font-size="20.6" dy="-6.5"> (R</tspan><tspan font-size="21.7" dy="4.5">S</tspan><tspan font-size="20.6" dy="-4.5">)</tspan></text>
<text transform="matrix(1.0000,0,0,1.0371,181.80,434.54) rotate(-90)" font-size="20" font-weight="bold">E<tspan font-size="20" dy="9.9">u</tspan><tspan font-size="20" dy="-9.9"> (LO)</tspan></text>
<text transform="matrix(0.9667,0,0,1.0449,243.33,436.34) rotate(-90)" font-size="20" font-weight="bold">E<tspan font-size="20" dy="9.9">u</tspan><tspan font-size="20" dy="-9.9"> (TO)</tspan></text>
<text transform="matrix(1.0429,0,0,1.0471,378.90,412.35) rotate(-90)" font-size="21.5" font-weight="bold">E<tspan font-size="21.5" dy="9.2">g</tspan><tspan font-size="21.5" dy="-9.2"> (R</tspan><tspan font-size="21.5" dy="9.8">S</tspan><tspan font-size="21.5" dy="-9.8">)</tspan></text>
<text transform="matrix(1.1067,0,0,1.0140,454.80,392.91) rotate(-90)" font-size="24" font-weight="bold">SnO</text>
<text transform="matrix(0.9618,0,0,1.0300,514.30,338.18)" font-size="23.4" font-weight="bold">A<tspan font-size="22.3" dy="8.8">1g</tspan><tspan font-size="23.4" dy="-8.8"> (R</tspan><tspan font-size="23" dy="9.7">S</tspan><tspan font-size="23.4" dy="-9.7">)</tspan></text>
<text transform="matrix(1.1284,0,0,1.0250,594.40,419.15)" font-size="20" font-weight="bold">B<tspan font-size="19.3" dy="9.5">2g</tspan><tspan font-size="19.5" dy="-9.5"> (R</tspan><tspan font-size="18.5" dy="9.8">S</tspan><tspan font-size="19.5" dy="-9.8">)</tspan></text>
<text transform="matrix(1.0611,0,0,0.9484,845.18,50.06)" font-size="34" font-weight="normal">(b)</text>
<text transform="matrix(1.0346,0,0,1.0030,801.70,462.60) rotate(-90)" font-size="41" font-weight="bold">Raman intensity (a. u.)</text>
<text transform="matrix(0.9636,0,0,1.0571,905.70,552.60)" font-size="31" font-weight="bold" text-anchor="middle">200</text>
<text transform="matrix(0.9636,0,0,1.0571,1046.20,552.60)" font-size="31" font-weight="bold" text-anchor="middle">400</text>
<text transform="matrix(0.9636,0,0,1.0571,1187.40,552.60)" font-size="31" font-weight="bold" text-anchor="middle">600</text>
<text transform="matrix(0.9636,0,0,1.0571,1328.70,552.60)" font-size="31" font-weight="bold" text-anchor="middle">800</text>
<text transform="matrix(0.9636,0,0,1.0571,1471.90,552.60)" font-size="31" font-weight="bold" text-anchor="middle">1000</text>
<text transform="matrix(0.9959,0,0,1.1240,1001.80,600.20)" font-size="38" font-weight="bold">Raman shift (cm</text>
<text transform="matrix(0.9111,0,0,1.1200,1272.89,577.70)" font-size="24" font-weight="bold">-1</text>
<text transform="matrix(0.9500,0,0,1.1059,1292.25,599.95)" font-size="38" font-weight="normal">)</text>
<text transform="matrix(1.1158,0,0,1.1427,875.25,189.14) rotate(-90)" font-size="31" font-weight="bold">E<tspan font-size="28" dy="9.5">g</tspan><tspan font-size="31" dy="-9.5">(A)</tspan></text>
<text transform="matrix(0.9897,0,0,0.9880,956.50,155.09) rotate(-90)" font-size="28" font-weight="bold">SOE (R<tspan font-size="28" dy="10.2">T</tspan><tspan font-size="28" dy="-10.2">)</tspan></text>
<text transform="matrix(0.9610,0,0,1.0257,1024.34,41.51)" font-size="28.5" font-weight="bold">E<tspan font-size="17.7" dy="11">g</tspan><tspan font-size="28.5" dy="-11">(R</tspan><tspan font-size="17.7" dy="11.5">T</tspan><tspan font-size="28.5" dy="-11.5">)</tspan></text>
<text transform="matrix(0.9232,0,0,1.0143,1141.10,49.29)" font-size="29" font-weight="bold">A1<tspan font-size="17.3" dy="10.8">g</tspan><tspan font-size="29" dy="-10.8">(R</tspan><tspan font-size="17.3" dy="11.1">T</tspan><tspan font-size="29" dy="-11.1">)</tspan></text>
<text transform="matrix(0.8785,0,0,0.9267,1292.00,30.36)" font-size="28.5" font-weight="bold">TiO<tspan font-size="27" dy="8.5">2</tspan><tspan font-size="28.5" dy="-8.5">:SnO</tspan><tspan font-size="27" dy="8.5">2</tspan><tspan font-size="28.5" dy="-8.5">(9:1)</tspan></text>
<text transform="matrix(0.8785,0,0,0.9267,1292.00,74.86)" font-size="28.5" font-weight="bold">TiO<tspan font-size="27" dy="8.5">2</tspan><tspan font-size="28.5" dy="-8.5">:SnO</tspan><tspan font-size="27" dy="8.5">2</tspan><tspan font-size="28.5" dy="-8.5">(8:2)</tspan></text>
<text transform="matrix(0.8785,0,0,0.9267,1292.00,119.66)" font-size="28.5" font-weight="bold">TiO<tspan font-size="27" dy="8.5">2</tspan><tspan font-size="28.5" dy="-8.5">:SnO</tspan><tspan font-size="27" dy="8.5">2</tspan><tspan font-size="28.5" dy="-8.5">(6:4)</tspan></text>
<text transform="matrix(0.9686,0,0,0.9882,1272.30,442.30)" font-size="26" font-weight="bold">A: Anatase</text>
<text transform="matrix(0.9503,0,0,1.0250,1272.30,476.48)" font-size="26.4" font-weight="bold">R<tspan font-size="22" dy="9.3">T</tspan><tspan font-size="26.4" dy="-9.3">: Rutile (TiO</tspan><tspan font-size="22.5" dy="9.3">2</tspan><tspan font-size="26.4" dy="-9.3">)</tspan></text>
</svg>
</body></html>
